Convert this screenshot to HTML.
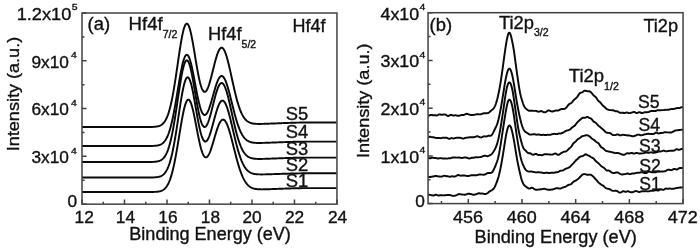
<!DOCTYPE html>
<html><head><meta charset="utf-8"><title>XPS spectra</title>
<style>html,body{margin:0;padding:0;background:#fff}svg{display:block}</style></head>
<body>
<svg width="700" height="249" viewBox="0 0 700 249" font-family="'Liberation Sans', sans-serif" fill="#111" stroke="#111" stroke-width="0.35">
<rect width="700" height="249" fill="#fff" stroke="none"/>
<defs><clipPath id="ca"><rect x="82.0" y="13.0" width="254.95" height="191.15"/></clipPath><clipPath id="cb"><rect x="428.05" y="12.7" width="255.00" height="190.90"/></clipPath></defs>
<g clip-path="url(#ca)" fill="none" stroke="#0a0a0a" stroke-width="1.95" stroke-linejoin="round">
<path d="M82.00 127.00L82.50 127.00L83.00 127.00L83.50 127.00L84.00 127.00L84.50 127.00L85.00 127.00L85.50 127.00L86.00 127.00L86.50 127.00L87.00 127.00L87.50 127.00L88.00 127.00L88.50 127.00L89.00 127.00L89.50 127.00L90.00 127.00L90.50 127.00L91.00 127.00L91.50 127.00L92.00 127.00L92.50 127.00L93.00 127.00L93.50 127.00L94.00 127.00L94.50 127.00L95.00 127.00L95.50 127.00L96.00 127.00L96.50 127.00L97.00 127.00L97.50 127.00L98.00 127.00L98.50 127.00L99.00 127.00L99.50 127.00L100.00 127.00L100.50 127.00L101.00 127.00L101.50 127.00L102.00 127.00L102.50 127.00L103.00 127.00L103.50 127.00L104.00 127.00L104.50 127.00L105.00 127.00L105.50 127.00L106.00 127.00L106.50 127.00L107.00 127.00L107.50 127.00L108.00 127.00L108.50 127.00L109.00 127.00L109.50 127.00L110.00 127.00L110.50 127.00L111.00 127.00L111.50 127.00L112.00 127.00L112.50 127.00L113.00 127.00L113.50 127.00L114.00 127.00L114.50 127.00L115.00 127.00L115.50 127.00L116.00 127.00L116.50 127.00L117.00 127.00L117.50 127.00L118.00 127.00L118.50 127.00L119.00 127.00L119.50 127.00L120.00 127.00L120.50 127.00L121.00 127.00L121.50 127.00L122.00 127.00L122.50 127.00L123.00 127.00L123.50 127.00L124.00 127.00L124.50 127.00L125.00 127.00L125.50 127.00L126.00 127.00L126.50 127.00L127.00 127.00L127.50 127.00L128.00 127.00L128.50 127.00L129.00 127.00L129.50 127.00L130.00 127.00L130.50 127.00L131.00 127.00L131.50 127.00L132.00 127.00L132.50 127.00L133.00 127.00L133.50 127.00L134.00 127.00L134.50 127.00L135.00 127.00L135.50 127.00L136.00 127.00L136.50 127.00L137.00 127.00L137.50 127.00L138.00 127.00L138.50 127.00L139.00 127.00L139.50 127.00L140.00 127.00L140.50 127.00L141.00 127.00L141.50 127.00L142.00 127.00L142.50 127.00L143.00 127.00L143.50 127.00L144.00 127.00L144.50 127.00L145.00 127.00L145.50 127.00L146.00 127.00L146.50 126.99L147.00 126.99L147.50 126.99L148.00 126.99L148.50 126.98L149.00 126.98L149.50 126.98L150.00 126.97L150.50 126.96L151.00 126.95L151.50 126.94L152.00 126.93L152.50 126.91L153.00 126.89L153.50 126.87L154.00 126.84L154.50 126.80L155.00 126.76L155.50 126.71L156.00 126.65L156.50 126.58L157.00 126.50L157.50 126.40L158.00 126.29L158.50 126.16L159.00 126.00L159.50 125.82L160.00 125.61L160.50 125.37L161.00 125.10L161.50 124.78L162.00 124.42L162.50 124.01L163.00 123.55L163.50 123.02L164.00 122.43L164.50 121.76L165.00 121.02L165.50 120.19L166.00 119.28L166.50 118.26L167.00 117.14L167.50 115.91L168.00 114.57L168.50 113.10L169.00 111.51L169.50 109.79L170.00 107.93L170.50 105.94L171.00 103.81L171.50 101.54L172.00 99.14L172.50 96.59L173.00 93.92L173.50 91.12L174.00 88.20L174.50 85.16L175.00 82.03L175.50 78.80L176.00 75.51L176.50 72.15L177.00 68.74L177.50 65.31L178.00 61.88L178.50 58.46L179.00 55.08L179.50 51.76L180.00 48.52L180.50 45.39L181.00 42.39L181.50 39.54L182.00 36.86L182.50 34.39L183.00 32.12L183.50 30.10L184.00 28.32L184.50 26.81L185.00 25.58L185.50 24.64L186.00 24.00L186.50 23.66L187.00 23.62L187.50 23.89L188.00 24.45L188.50 25.31L189.00 26.45L189.50 27.86L190.00 29.52L190.50 31.43L191.00 33.56L191.50 35.88L192.00 38.38L192.50 41.04L193.00 43.83L193.50 46.72L194.00 49.68L194.50 52.70L195.00 55.74L195.50 58.79L196.00 61.81L196.50 64.78L197.00 67.68L197.50 70.49L198.00 73.18L198.50 75.75L199.00 78.16L199.50 80.41L200.00 82.49L200.50 84.37L201.00 86.06L201.50 87.54L202.00 88.81L202.50 89.86L203.00 90.70L203.50 91.31L204.00 91.71L204.50 91.89L205.00 91.85L205.50 91.61L206.00 91.17L206.50 90.54L207.00 89.72L207.50 88.72L208.00 87.56L208.50 86.25L209.00 84.81L209.50 83.23L210.00 81.55L210.50 79.77L211.00 77.91L211.50 75.98L212.00 74.00L212.50 72.00L213.00 69.97L213.50 67.95L214.00 65.94L214.50 63.97L215.00 62.05L215.50 60.19L216.00 58.42L216.50 56.74L217.00 55.16L217.50 53.72L218.00 52.40L218.50 51.23L219.00 50.21L219.50 49.36L220.00 48.68L220.50 48.17L221.00 47.85L221.50 47.71L222.00 47.75L222.50 47.98L223.00 48.40L223.50 48.99L224.00 49.77L224.50 50.71L225.00 51.82L225.50 53.09L226.00 54.51L226.50 56.06L227.00 57.75L227.50 59.55L228.00 61.46L228.50 63.46L229.00 65.54L229.50 67.68L230.00 69.89L230.50 72.13L231.00 74.40L231.50 76.69L232.00 78.99L232.50 81.28L233.00 83.56L233.50 85.80L234.00 88.02L234.50 90.18L235.00 92.30L235.50 94.36L236.00 96.35L236.50 98.28L237.00 100.13L237.50 101.90L238.00 103.59L238.50 105.20L239.00 106.73L239.50 108.17L240.00 109.54L240.50 110.81L241.00 112.01L241.50 113.13L242.00 114.17L242.50 115.13L243.00 116.02L243.50 116.84L244.00 117.60L244.50 118.29L245.00 118.92L245.50 119.50L246.00 120.02L246.50 120.50L247.00 120.92L247.50 121.31L248.00 121.65L248.50 121.96L249.00 122.23L249.50 122.48L250.00 122.69L250.50 122.88L251.00 123.05L251.50 123.19L252.00 123.32L252.50 123.43L253.00 123.52L253.50 123.60L254.00 123.67L254.50 123.73L255.00 123.77L255.50 123.81L256.00 123.85L256.50 123.87L257.00 123.89L257.50 123.91L258.00 123.92L258.50 123.92L259.00 123.93L259.50 123.93L260.00 123.92L260.50 123.92L261.00 123.91L261.50 123.90L262.00 123.89L262.50 123.88L263.00 123.87L263.50 123.86L264.00 123.84L264.50 123.83L265.00 123.81L265.50 123.80L266.00 123.78L266.50 123.76L267.00 123.74L267.50 123.73L268.00 123.71L268.50 123.69L269.00 123.67L269.50 123.65L270.00 123.63L270.50 123.61L271.00 123.59L271.50 123.57L272.00 123.55L272.50 123.53L273.00 123.51L273.50 123.49L274.00 123.47L274.50 123.45L275.00 123.43L275.50 123.41L276.00 123.39L276.50 123.37L277.00 123.35L277.50 123.33L278.00 123.31L278.50 123.29L279.00 123.27L279.50 123.25L280.00 123.23L280.50 123.21L281.00 123.19L281.50 123.17L282.00 123.15L282.50 123.13L283.00 123.11L283.50 123.09L284.00 123.07L284.50 123.05L285.00 123.03L285.50 123.01L286.00 122.99L286.50 122.97L287.00 122.95L287.50 122.93L288.00 122.92L288.50 122.90L289.00 122.88L289.50 122.86L290.00 122.85L290.50 122.83L291.00 122.81L291.50 122.80L292.00 122.78L292.50 122.77L293.00 122.75L293.50 122.74L294.00 122.72L294.50 122.71L295.00 122.69L295.50 122.68L296.00 122.67L296.50 122.65L297.00 122.64L297.50 122.63L298.00 122.62L298.50 122.61L299.00 122.60L299.50 122.59L300.00 122.58L300.50 122.57L301.00 122.56L301.50 122.55L302.00 122.54L302.50 122.54L303.00 122.53L303.50 122.53L304.00 122.52L304.50 122.52L305.00 122.51L305.50 122.51L306.00 122.51L306.50 122.50L307.00 122.50L307.50 122.50L308.00 122.50L308.50 122.50L309.00 122.50L309.50 122.50L310.00 122.50L310.50 122.50L311.00 122.50L311.50 122.50L312.00 122.50L312.50 122.50L313.00 122.50L313.50 122.50L314.00 122.50L314.50 122.50L315.00 122.50L315.50 122.50L316.00 122.50L316.50 122.50L317.00 122.50L317.50 122.50L318.00 122.50L318.50 122.50L319.00 122.50L319.50 122.50L320.00 122.50L320.50 122.50L321.00 122.50L321.50 122.50L322.00 122.50L322.50 122.50L323.00 122.50L323.50 122.50L324.00 122.50L324.50 122.50L325.00 122.50L325.50 122.50L326.00 122.50L326.50 122.50L327.00 122.50L327.50 122.50L328.00 122.50L328.50 122.50L329.00 122.50L329.50 122.50L330.00 122.50L330.50 122.50L331.00 122.50L331.50 122.50L332.00 122.50L332.50 122.50L333.00 122.50L333.50 122.50L334.00 122.50L334.50 122.50L335.00 122.50L335.50 122.50L336.00 122.50L336.50 122.50"/>
<path d="M82.00 146.00L82.50 146.00L83.00 146.00L83.50 146.00L84.00 146.00L84.50 146.00L85.00 146.00L85.50 146.00L86.00 146.00L86.50 146.00L87.00 146.00L87.50 146.00L88.00 146.00L88.50 146.00L89.00 146.00L89.50 146.00L90.00 146.00L90.50 146.00L91.00 146.00L91.50 146.00L92.00 146.00L92.50 146.00L93.00 146.00L93.50 146.00L94.00 146.00L94.50 146.00L95.00 146.00L95.50 146.00L96.00 146.00L96.50 146.00L97.00 146.00L97.50 146.00L98.00 146.00L98.50 146.00L99.00 146.00L99.50 146.00L100.00 146.00L100.50 146.00L101.00 146.00L101.50 146.00L102.00 146.00L102.50 146.00L103.00 146.00L103.50 146.00L104.00 146.00L104.50 146.00L105.00 146.00L105.50 146.00L106.00 146.00L106.50 146.00L107.00 146.00L107.50 146.00L108.00 146.00L108.50 146.00L109.00 146.00L109.50 146.00L110.00 146.00L110.50 146.00L111.00 146.00L111.50 146.00L112.00 146.00L112.50 146.00L113.00 146.00L113.50 146.00L114.00 146.00L114.50 146.00L115.00 146.00L115.50 146.00L116.00 146.00L116.50 146.00L117.00 146.00L117.50 146.00L118.00 146.00L118.50 146.00L119.00 146.00L119.50 146.00L120.00 146.00L120.50 146.00L121.00 146.00L121.50 146.00L122.00 146.00L122.50 146.00L123.00 146.00L123.50 146.00L124.00 146.00L124.50 146.00L125.00 146.00L125.50 146.00L126.00 146.00L126.50 146.00L127.00 146.00L127.50 146.00L128.00 146.00L128.50 146.00L129.00 146.00L129.50 146.00L130.00 146.00L130.50 146.00L131.00 146.00L131.50 146.00L132.00 146.00L132.50 146.00L133.00 146.00L133.50 146.00L134.00 146.00L134.50 146.00L135.00 146.00L135.50 146.00L136.00 146.00L136.50 146.00L137.00 146.00L137.50 146.00L138.00 146.00L138.50 146.00L139.00 146.00L139.50 146.00L140.00 146.00L140.50 146.00L141.00 146.00L141.50 146.00L142.00 146.00L142.50 146.00L143.00 146.00L143.50 146.00L144.00 146.00L144.50 146.00L145.00 146.00L145.50 146.00L146.00 146.00L146.50 145.99L147.00 145.99L147.50 145.99L148.00 145.99L148.50 145.99L149.00 145.98L149.50 145.98L150.00 145.97L150.50 145.97L151.00 145.96L151.50 145.95L152.00 145.94L152.50 145.92L153.00 145.90L153.50 145.88L154.00 145.86L154.50 145.83L155.00 145.79L155.50 145.75L156.00 145.69L156.50 145.63L157.00 145.56L157.50 145.47L158.00 145.37L158.50 145.26L159.00 145.12L159.50 144.96L160.00 144.78L160.50 144.57L161.00 144.32L161.50 144.04L162.00 143.73L162.50 143.37L163.00 142.96L163.50 142.49L164.00 141.97L164.50 141.38L165.00 140.73L165.50 140.00L166.00 139.19L166.50 138.30L167.00 137.31L167.50 136.23L168.00 135.04L168.50 133.75L169.00 132.35L169.50 130.83L170.00 129.19L170.50 127.44L171.00 125.56L171.50 123.56L172.00 121.44L172.50 119.20L173.00 116.84L173.50 114.37L174.00 111.79L174.50 109.12L175.00 106.35L175.50 103.51L176.00 100.60L176.50 97.64L177.00 94.64L177.50 91.62L178.00 88.59L178.50 85.57L179.00 82.59L179.50 79.66L180.00 76.81L180.50 74.04L181.00 71.40L181.50 68.88L182.00 66.52L182.50 64.33L183.00 62.34L183.50 60.55L184.00 58.98L184.50 57.65L185.00 56.56L185.50 55.73L186.00 55.16L186.50 54.85L187.00 54.82L187.50 55.05L188.00 55.54L188.50 56.29L189.00 57.29L189.50 58.53L190.00 60.00L190.50 61.68L191.00 63.55L191.50 65.60L192.00 67.80L192.50 70.14L193.00 72.59L193.50 75.14L194.00 77.75L194.50 80.41L195.00 83.09L195.50 85.77L196.00 88.44L196.50 91.06L197.00 93.61L197.50 96.09L198.00 98.46L198.50 100.73L199.00 102.86L199.50 104.84L200.00 106.67L200.50 108.34L201.00 109.83L201.50 111.14L202.00 112.26L202.50 113.19L203.00 113.93L203.50 114.47L204.00 114.83L204.50 114.99L205.00 114.96L205.50 114.75L206.00 114.37L206.50 113.81L207.00 113.09L207.50 112.21L208.00 111.20L208.50 110.04L209.00 108.77L209.50 107.38L210.00 105.90L210.50 104.33L211.00 102.69L211.50 100.99L212.00 99.25L212.50 97.48L213.00 95.69L213.50 93.91L214.00 92.14L214.50 90.39L215.00 88.70L215.50 87.06L216.00 85.49L216.50 84.00L217.00 82.61L217.50 81.33L218.00 80.17L218.50 79.13L219.00 78.23L219.50 77.48L220.00 76.87L220.50 76.42L221.00 76.13L221.50 76.01L222.00 76.04L222.50 76.24L223.00 76.61L223.50 77.13L224.00 77.81L224.50 78.64L225.00 79.62L225.50 80.73L226.00 81.98L226.50 83.35L227.00 84.84L227.50 86.42L228.00 88.10L228.50 89.86L229.00 91.69L229.50 93.58L230.00 95.52L230.50 97.50L231.00 99.50L231.50 101.52L232.00 103.54L232.50 105.55L233.00 107.55L233.50 109.53L234.00 111.48L234.50 113.39L235.00 115.25L235.50 117.06L236.00 118.81L236.50 120.50L237.00 122.12L237.50 123.68L238.00 125.17L238.50 126.58L239.00 127.92L239.50 129.19L240.00 130.38L240.50 131.50L241.00 132.55L241.50 133.53L242.00 134.44L242.50 135.28L243.00 136.07L243.50 136.78L244.00 137.44L244.50 138.05L245.00 138.60L245.50 139.11L246.00 139.56L246.50 139.98L247.00 140.35L247.50 140.69L248.00 140.99L248.50 141.25L249.00 141.49L249.50 141.70L250.00 141.89L250.50 142.06L251.00 142.20L251.50 142.32L252.00 142.43L252.50 142.53L253.00 142.61L253.50 142.68L254.00 142.74L254.50 142.79L255.00 142.83L255.50 142.86L256.00 142.89L256.50 142.91L257.00 142.92L257.50 142.93L258.00 142.94L258.50 142.95L259.00 142.95L259.50 142.95L260.00 142.94L260.50 142.94L261.00 142.93L261.50 142.92L262.00 142.91L262.50 142.90L263.00 142.89L263.50 142.88L264.00 142.86L264.50 142.85L265.00 142.83L265.50 142.82L266.00 142.80L266.50 142.79L267.00 142.77L267.50 142.75L268.00 142.74L268.50 142.72L269.00 142.70L269.50 142.68L270.00 142.67L270.50 142.65L271.00 142.63L271.50 142.61L272.00 142.59L272.50 142.57L273.00 142.55L273.50 142.53L274.00 142.52L274.50 142.50L275.00 142.48L275.50 142.46L276.00 142.44L276.50 142.42L277.00 142.40L277.50 142.38L278.00 142.36L278.50 142.34L279.00 142.32L279.50 142.30L280.00 142.28L280.50 142.27L281.00 142.25L281.50 142.23L282.00 142.21L282.50 142.19L283.00 142.17L283.50 142.15L284.00 142.13L284.50 142.12L285.00 142.10L285.50 142.08L286.00 142.06L286.50 142.04L287.00 142.03L287.50 142.01L288.00 141.99L288.50 141.98L289.00 141.96L289.50 141.94L290.00 141.93L290.50 141.91L291.00 141.89L291.50 141.88L292.00 141.86L292.50 141.85L293.00 141.84L293.50 141.82L294.00 141.81L294.50 141.79L295.00 141.78L295.50 141.77L296.00 141.76L296.50 141.74L297.00 141.73L297.50 141.72L298.00 141.71L298.50 141.70L299.00 141.69L299.50 141.68L300.00 141.67L300.50 141.66L301.00 141.66L301.50 141.65L302.00 141.64L302.50 141.64L303.00 141.63L303.50 141.62L304.00 141.62L304.50 141.61L305.00 141.61L305.50 141.61L306.00 141.60L306.50 141.60L307.00 141.60L307.50 141.60L308.00 141.60L308.50 141.60L309.00 141.60L309.50 141.60L310.00 141.60L310.50 141.60L311.00 141.60L311.50 141.60L312.00 141.60L312.50 141.60L313.00 141.60L313.50 141.60L314.00 141.60L314.50 141.60L315.00 141.60L315.50 141.60L316.00 141.60L316.50 141.60L317.00 141.60L317.50 141.60L318.00 141.60L318.50 141.60L319.00 141.60L319.50 141.60L320.00 141.60L320.50 141.60L321.00 141.60L321.50 141.60L322.00 141.60L322.50 141.60L323.00 141.60L323.50 141.60L324.00 141.60L324.50 141.60L325.00 141.60L325.50 141.60L326.00 141.60L326.50 141.60L327.00 141.60L327.50 141.60L328.00 141.60L328.50 141.60L329.00 141.60L329.50 141.60L330.00 141.60L330.50 141.60L331.00 141.60L331.50 141.60L332.00 141.60L332.50 141.60L333.00 141.60L333.50 141.60L334.00 141.60L334.50 141.60L335.00 141.60L335.50 141.60L336.00 141.60L336.50 141.60"/>
<path d="M82.00 162.00L82.50 162.00L83.00 162.00L83.50 162.00L84.00 162.00L84.50 162.00L85.00 162.00L85.50 162.00L86.00 162.00L86.50 162.00L87.00 162.00L87.50 162.00L88.00 162.00L88.50 162.00L89.00 162.00L89.50 162.00L90.00 162.00L90.50 162.00L91.00 162.00L91.50 162.00L92.00 162.00L92.50 162.00L93.00 162.00L93.50 162.00L94.00 162.00L94.50 162.00L95.00 162.00L95.50 162.00L96.00 162.00L96.50 162.00L97.00 162.00L97.50 162.00L98.00 162.00L98.50 162.00L99.00 162.00L99.50 162.00L100.00 162.00L100.50 162.00L101.00 162.00L101.50 162.00L102.00 162.00L102.50 162.00L103.00 162.00L103.50 162.00L104.00 162.00L104.50 162.00L105.00 162.00L105.50 162.00L106.00 162.00L106.50 162.00L107.00 162.00L107.50 162.00L108.00 162.00L108.50 162.00L109.00 162.00L109.50 162.00L110.00 162.00L110.50 162.00L111.00 162.00L111.50 162.00L112.00 162.00L112.50 162.00L113.00 162.00L113.50 162.00L114.00 162.00L114.50 162.00L115.00 162.00L115.50 162.00L116.00 162.00L116.50 162.00L117.00 162.00L117.50 162.00L118.00 162.00L118.50 162.00L119.00 162.00L119.50 162.00L120.00 162.00L120.50 162.00L121.00 162.00L121.50 162.00L122.00 162.00L122.50 162.00L123.00 162.00L123.50 162.00L124.00 162.00L124.50 162.00L125.00 162.00L125.50 162.00L126.00 162.00L126.50 162.00L127.00 162.00L127.50 162.00L128.00 162.00L128.50 162.00L129.00 162.00L129.50 162.00L130.00 162.00L130.50 162.00L131.00 162.00L131.50 162.00L132.00 162.00L132.50 162.00L133.00 162.00L133.50 162.00L134.00 162.00L134.50 162.00L135.00 162.00L135.50 162.00L136.00 162.00L136.50 162.00L137.00 162.00L137.50 162.00L138.00 162.00L138.50 162.00L139.00 162.00L139.50 162.00L140.00 162.00L140.50 162.00L141.00 162.00L141.50 162.00L142.00 162.00L142.50 162.00L143.00 162.00L143.50 162.00L144.00 162.00L144.50 162.00L145.00 162.00L145.50 162.00L146.00 162.00L146.50 161.99L147.00 161.99L147.50 161.99L148.00 161.99L148.50 161.98L149.00 161.98L149.50 161.98L150.00 161.97L150.50 161.96L151.00 161.95L151.50 161.94L152.00 161.93L152.50 161.91L153.00 161.89L153.50 161.87L154.00 161.84L154.50 161.81L155.00 161.77L155.50 161.72L156.00 161.66L156.50 161.59L157.00 161.51L157.50 161.41L158.00 161.30L158.50 161.17L159.00 161.02L159.50 160.84L160.00 160.64L160.50 160.40L161.00 160.13L161.50 159.82L162.00 159.46L162.50 159.06L163.00 158.60L163.50 158.09L164.00 157.50L164.50 156.85L165.00 156.12L165.50 155.31L166.00 154.41L166.50 153.41L167.00 152.31L167.50 151.10L168.00 149.78L168.50 148.33L169.00 146.77L169.50 145.08L170.00 143.25L170.50 141.29L171.00 139.20L171.50 136.97L172.00 134.60L172.50 132.10L173.00 129.47L173.50 126.71L174.00 123.84L174.50 120.86L175.00 117.78L175.50 114.61L176.00 111.36L176.50 108.06L177.00 104.71L177.50 101.34L178.00 97.96L178.50 94.60L179.00 91.28L179.50 88.01L180.00 84.82L180.50 81.74L181.00 78.79L181.50 75.99L182.00 73.36L182.50 70.92L183.00 68.69L183.50 66.70L184.00 64.95L184.50 63.47L185.00 62.26L185.50 61.33L186.00 60.70L186.50 60.36L187.00 60.32L187.50 60.58L188.00 61.13L188.50 61.97L189.00 63.09L189.50 64.47L190.00 66.10L190.50 67.97L191.00 70.06L191.50 72.34L192.00 74.79L192.50 77.40L193.00 80.13L193.50 82.96L194.00 85.87L194.50 88.83L195.00 91.81L195.50 94.80L196.00 97.75L196.50 100.66L197.00 103.50L197.50 106.25L198.00 108.88L198.50 111.38L199.00 113.74L199.50 115.94L200.00 117.96L200.50 119.79L201.00 121.43L201.50 122.86L202.00 124.09L202.50 125.10L203.00 125.90L203.50 126.48L204.00 126.84L204.50 127.00L205.00 126.94L205.50 126.67L206.00 126.21L206.50 125.56L207.00 124.73L207.50 123.73L208.00 122.56L208.50 121.25L209.00 119.80L209.50 118.23L210.00 116.55L210.50 114.78L211.00 112.93L211.50 111.01L212.00 109.05L212.50 107.06L213.00 105.05L213.50 103.04L214.00 101.05L214.50 99.10L215.00 97.20L215.50 95.36L216.00 93.60L216.50 91.94L217.00 90.38L217.50 88.95L218.00 87.65L218.50 86.49L219.00 85.48L219.50 84.64L220.00 83.97L220.50 83.47L221.00 83.15L221.50 83.01L222.00 83.05L222.50 83.28L223.00 83.69L223.50 84.28L224.00 85.04L224.50 85.97L225.00 87.07L225.50 88.33L226.00 89.73L226.50 91.27L227.00 92.93L227.50 94.71L228.00 96.60L228.50 98.58L229.00 100.64L229.50 102.76L230.00 104.95L230.50 107.17L231.00 109.42L231.50 111.69L232.00 113.97L232.50 116.25L233.00 118.50L233.50 120.74L234.00 122.93L234.50 125.09L235.00 127.20L235.50 129.24L236.00 131.23L236.50 133.15L237.00 134.99L237.50 136.76L238.00 138.45L238.50 140.06L239.00 141.59L239.50 143.03L240.00 144.39L240.50 145.67L241.00 146.87L241.50 147.99L242.00 149.04L242.50 150.01L243.00 150.90L243.50 151.73L244.00 152.49L244.50 153.19L245.00 153.83L245.50 154.41L246.00 154.94L246.50 155.42L247.00 155.85L247.50 156.24L248.00 156.59L248.50 156.90L249.00 157.18L249.50 157.43L250.00 157.65L250.50 157.84L251.00 158.01L251.50 158.16L252.00 158.29L252.50 158.41L253.00 158.50L253.50 158.59L254.00 158.66L254.50 158.72L255.00 158.77L255.50 158.81L256.00 158.84L256.50 158.87L257.00 158.89L257.50 158.91L258.00 158.92L258.50 158.93L259.00 158.93L259.50 158.93L260.00 158.93L260.50 158.93L261.00 158.92L261.50 158.92L262.00 158.91L262.50 158.90L263.00 158.89L263.50 158.87L264.00 158.86L264.50 158.85L265.00 158.83L265.50 158.82L266.00 158.80L266.50 158.79L267.00 158.77L267.50 158.75L268.00 158.74L268.50 158.72L269.00 158.70L269.50 158.68L270.00 158.67L270.50 158.65L271.00 158.63L271.50 158.61L272.00 158.59L272.50 158.57L273.00 158.55L273.50 158.53L274.00 158.52L274.50 158.50L275.00 158.48L275.50 158.46L276.00 158.44L276.50 158.42L277.00 158.40L277.50 158.38L278.00 158.36L278.50 158.34L279.00 158.32L279.50 158.30L280.00 158.28L280.50 158.27L281.00 158.25L281.50 158.23L282.00 158.21L282.50 158.19L283.00 158.17L283.50 158.15L284.00 158.13L284.50 158.12L285.00 158.10L285.50 158.08L286.00 158.06L286.50 158.04L287.00 158.03L287.50 158.01L288.00 157.99L288.50 157.98L289.00 157.96L289.50 157.94L290.00 157.93L290.50 157.91L291.00 157.89L291.50 157.88L292.00 157.86L292.50 157.85L293.00 157.84L293.50 157.82L294.00 157.81L294.50 157.79L295.00 157.78L295.50 157.77L296.00 157.76L296.50 157.74L297.00 157.73L297.50 157.72L298.00 157.71L298.50 157.70L299.00 157.69L299.50 157.68L300.00 157.67L300.50 157.66L301.00 157.66L301.50 157.65L302.00 157.64L302.50 157.64L303.00 157.63L303.50 157.62L304.00 157.62L304.50 157.61L305.00 157.61L305.50 157.61L306.00 157.60L306.50 157.60L307.00 157.60L307.50 157.60L308.00 157.60L308.50 157.60L309.00 157.60L309.50 157.60L310.00 157.60L310.50 157.60L311.00 157.60L311.50 157.60L312.00 157.60L312.50 157.60L313.00 157.60L313.50 157.60L314.00 157.60L314.50 157.60L315.00 157.60L315.50 157.60L316.00 157.60L316.50 157.60L317.00 157.60L317.50 157.60L318.00 157.60L318.50 157.60L319.00 157.60L319.50 157.60L320.00 157.60L320.50 157.60L321.00 157.60L321.50 157.60L322.00 157.60L322.50 157.60L323.00 157.60L323.50 157.60L324.00 157.60L324.50 157.60L325.00 157.60L325.50 157.60L326.00 157.60L326.50 157.60L327.00 157.60L327.50 157.60L328.00 157.60L328.50 157.60L329.00 157.60L329.50 157.60L330.00 157.60L330.50 157.60L331.00 157.60L331.50 157.60L332.00 157.60L332.50 157.60L333.00 157.60L333.50 157.60L334.00 157.60L334.50 157.60L335.00 157.60L335.50 157.60L336.00 157.60L336.50 157.60"/>
<path d="M82.00 177.50L82.50 177.50L83.00 177.50L83.50 177.50L84.00 177.50L84.50 177.50L85.00 177.50L85.50 177.50L86.00 177.50L86.50 177.50L87.00 177.50L87.50 177.50L88.00 177.50L88.50 177.50L89.00 177.50L89.50 177.50L90.00 177.50L90.50 177.50L91.00 177.50L91.50 177.50L92.00 177.50L92.50 177.50L93.00 177.50L93.50 177.50L94.00 177.50L94.50 177.50L95.00 177.50L95.50 177.50L96.00 177.50L96.50 177.50L97.00 177.50L97.50 177.50L98.00 177.50L98.50 177.50L99.00 177.50L99.50 177.50L100.00 177.50L100.50 177.50L101.00 177.50L101.50 177.50L102.00 177.50L102.50 177.50L103.00 177.50L103.50 177.50L104.00 177.50L104.50 177.50L105.00 177.50L105.50 177.50L106.00 177.50L106.50 177.50L107.00 177.50L107.50 177.50L108.00 177.50L108.50 177.50L109.00 177.50L109.50 177.50L110.00 177.50L110.50 177.50L111.00 177.50L111.50 177.50L112.00 177.50L112.50 177.50L113.00 177.50L113.50 177.50L114.00 177.50L114.50 177.50L115.00 177.50L115.50 177.50L116.00 177.50L116.50 177.50L117.00 177.50L117.50 177.50L118.00 177.50L118.50 177.50L119.00 177.50L119.50 177.50L120.00 177.50L120.50 177.50L121.00 177.50L121.50 177.50L122.00 177.50L122.50 177.50L123.00 177.50L123.50 177.50L124.00 177.50L124.50 177.50L125.00 177.50L125.50 177.50L126.00 177.50L126.50 177.50L127.00 177.50L127.50 177.50L128.00 177.50L128.50 177.50L129.00 177.50L129.50 177.50L130.00 177.50L130.50 177.50L131.00 177.50L131.50 177.50L132.00 177.50L132.50 177.50L133.00 177.50L133.50 177.50L134.00 177.50L134.50 177.50L135.00 177.50L135.50 177.50L136.00 177.50L136.50 177.50L137.00 177.50L137.50 177.50L138.00 177.50L138.50 177.50L139.00 177.50L139.50 177.50L140.00 177.50L140.50 177.50L141.00 177.50L141.50 177.50L142.00 177.50L142.50 177.50L143.00 177.50L143.50 177.50L144.00 177.50L144.50 177.50L145.00 177.50L145.50 177.50L146.00 177.50L146.50 177.50L147.00 177.50L147.50 177.49L148.00 177.49L148.50 177.49L149.00 177.49L149.50 177.48L150.00 177.48L150.50 177.47L151.00 177.47L151.50 177.46L152.00 177.45L152.50 177.44L153.00 177.42L153.50 177.41L154.00 177.39L154.50 177.36L155.00 177.33L155.50 177.30L156.00 177.25L156.50 177.20L157.00 177.14L157.50 177.07L158.00 176.98L158.50 176.88L159.00 176.76L159.50 176.63L160.00 176.47L160.50 176.28L161.00 176.07L161.50 175.82L162.00 175.54L162.50 175.22L163.00 174.85L163.50 174.43L164.00 173.96L164.50 173.43L165.00 172.83L165.50 172.15L166.00 171.40L166.50 170.57L167.00 169.64L167.50 168.62L168.00 167.50L168.50 166.26L169.00 164.91L169.50 163.45L170.00 161.86L170.50 160.14L171.00 158.29L171.50 156.31L172.00 154.19L172.50 151.94L173.00 149.56L173.50 147.05L174.00 144.41L174.50 141.65L175.00 138.78L175.50 135.80L176.00 132.73L176.50 129.58L177.00 126.36L177.50 123.09L178.00 119.78L178.50 116.45L179.00 113.13L179.50 109.83L180.00 106.58L180.50 103.39L181.00 100.30L181.50 97.31L182.00 94.46L182.50 91.76L183.00 89.24L183.50 86.92L184.00 84.81L184.50 82.94L185.00 81.31L185.50 79.95L186.00 78.86L186.50 78.05L187.00 77.54L187.50 77.31L188.00 77.38L188.50 77.73L189.00 78.37L189.50 79.29L190.00 80.48L190.50 81.92L191.00 83.60L191.50 85.50L192.00 87.61L192.50 89.90L193.00 92.34L193.50 94.92L194.00 97.62L194.50 100.40L195.00 103.25L195.50 106.13L196.00 109.02L196.50 111.90L197.00 114.75L197.50 117.53L198.00 120.24L198.50 122.85L199.00 125.33L199.50 127.69L200.00 129.89L200.50 131.93L201.00 133.79L201.50 135.47L202.00 136.95L202.50 138.23L203.00 139.31L203.50 140.18L204.00 140.84L204.50 141.30L205.00 141.55L205.50 141.59L206.00 141.44L206.50 141.10L207.00 140.58L207.50 139.87L208.00 139.01L208.50 137.99L209.00 136.82L209.50 135.52L210.00 134.10L210.50 132.58L211.00 130.96L211.50 129.27L212.00 127.51L212.50 125.70L213.00 123.86L213.50 122.00L214.00 120.13L214.50 118.28L215.00 116.45L215.50 114.66L216.00 112.93L216.50 111.27L217.00 109.68L217.50 108.20L218.00 106.81L218.50 105.55L219.00 104.41L219.50 103.40L220.00 102.54L220.50 101.83L221.00 101.28L221.50 100.89L222.00 100.66L222.50 100.60L223.00 100.71L223.50 100.98L224.00 101.42L224.50 102.02L225.00 102.78L225.50 103.70L226.00 104.76L226.50 105.97L227.00 107.30L227.50 108.77L228.00 110.34L228.50 112.03L229.00 113.81L229.50 115.67L230.00 117.60L230.50 119.60L231.00 121.65L231.50 123.74L232.00 125.86L232.50 128.00L233.00 130.15L233.50 132.29L234.00 134.42L234.50 136.54L235.00 138.62L235.50 140.67L236.00 142.68L236.50 144.63L237.00 146.53L237.50 148.37L238.00 150.15L238.50 151.86L239.00 153.50L239.50 155.06L240.00 156.55L240.50 157.97L241.00 159.31L241.50 160.58L242.00 161.77L242.50 162.89L243.00 163.93L243.50 164.91L244.00 165.81L244.50 166.66L245.00 167.43L245.50 168.15L246.00 168.81L246.50 169.42L247.00 169.97L247.50 170.48L248.00 170.94L248.50 171.35L249.00 171.73L249.50 172.06L250.00 172.37L250.50 172.64L251.00 172.88L251.50 173.10L252.00 173.29L252.50 173.46L253.00 173.61L253.50 173.74L254.00 173.85L254.50 173.95L255.00 174.03L255.50 174.11L256.00 174.17L256.50 174.22L257.00 174.26L257.50 174.30L258.00 174.33L258.50 174.36L259.00 174.37L259.50 174.39L260.00 174.40L260.50 174.41L261.00 174.41L261.50 174.41L262.00 174.41L262.50 174.41L263.00 174.40L263.50 174.39L264.00 174.39L264.50 174.38L265.00 174.37L265.50 174.36L266.00 174.34L266.50 174.33L267.00 174.32L267.50 174.30L268.00 174.29L268.50 174.28L269.00 174.26L269.50 174.25L270.00 174.23L270.50 174.21L271.00 174.20L271.50 174.18L272.00 174.17L272.50 174.15L273.00 174.13L273.50 174.12L274.00 174.10L274.50 174.08L275.00 174.07L275.50 174.05L276.00 174.03L276.50 174.02L277.00 174.00L277.50 173.98L278.00 173.97L278.50 173.95L279.00 173.93L279.50 173.92L280.00 173.90L280.50 173.88L281.00 173.87L281.50 173.85L282.00 173.83L282.50 173.82L283.00 173.80L283.50 173.78L284.00 173.77L284.50 173.75L285.00 173.74L285.50 173.72L286.00 173.70L286.50 173.69L287.00 173.67L287.50 173.66L288.00 173.64L288.50 173.63L289.00 173.61L289.50 173.60L290.00 173.59L290.50 173.57L291.00 173.56L291.50 173.54L292.00 173.53L292.50 173.52L293.00 173.51L293.50 173.49L294.00 173.48L294.50 173.47L295.00 173.46L295.50 173.45L296.00 173.44L296.50 173.43L297.00 173.42L297.50 173.41L298.00 173.40L298.50 173.39L299.00 173.38L299.50 173.37L300.00 173.36L300.50 173.36L301.00 173.35L301.50 173.34L302.00 173.34L302.50 173.33L303.00 173.33L303.50 173.32L304.00 173.32L304.50 173.31L305.00 173.31L305.50 173.31L306.00 173.30L306.50 173.30L307.00 173.30L307.50 173.30L308.00 173.30L308.50 173.30L309.00 173.30L309.50 173.30L310.00 173.30L310.50 173.30L311.00 173.30L311.50 173.30L312.00 173.30L312.50 173.30L313.00 173.30L313.50 173.30L314.00 173.30L314.50 173.30L315.00 173.30L315.50 173.30L316.00 173.30L316.50 173.30L317.00 173.30L317.50 173.30L318.00 173.30L318.50 173.30L319.00 173.30L319.50 173.30L320.00 173.30L320.50 173.30L321.00 173.30L321.50 173.30L322.00 173.30L322.50 173.30L323.00 173.30L323.50 173.30L324.00 173.30L324.50 173.30L325.00 173.30L325.50 173.30L326.00 173.30L326.50 173.30L327.00 173.30L327.50 173.30L328.00 173.30L328.50 173.30L329.00 173.30L329.50 173.30L330.00 173.30L330.50 173.30L331.00 173.30L331.50 173.30L332.00 173.30L332.50 173.30L333.00 173.30L333.50 173.30L334.00 173.30L334.50 173.30L335.00 173.30L335.50 173.30L336.00 173.30L336.50 173.30"/>
<path d="M82.00 192.00L82.50 192.00L83.00 192.00L83.50 192.00L84.00 192.00L84.50 192.00L85.00 192.00L85.50 192.00L86.00 192.00L86.50 192.00L87.00 192.00L87.50 192.00L88.00 192.00L88.50 192.00L89.00 192.00L89.50 192.00L90.00 192.00L90.50 192.00L91.00 192.00L91.50 192.00L92.00 192.00L92.50 192.00L93.00 192.00L93.50 192.00L94.00 192.00L94.50 192.00L95.00 192.00L95.50 192.00L96.00 192.00L96.50 192.00L97.00 192.00L97.50 192.00L98.00 192.00L98.50 192.00L99.00 192.00L99.50 192.00L100.00 192.00L100.50 192.00L101.00 192.00L101.50 192.00L102.00 192.00L102.50 192.00L103.00 192.00L103.50 192.00L104.00 192.00L104.50 192.00L105.00 192.00L105.50 192.00L106.00 192.00L106.50 192.00L107.00 192.00L107.50 192.00L108.00 192.00L108.50 192.00L109.00 192.00L109.50 192.00L110.00 192.00L110.50 192.00L111.00 192.00L111.50 192.00L112.00 192.00L112.50 192.00L113.00 192.00L113.50 192.00L114.00 192.00L114.50 192.00L115.00 192.00L115.50 192.00L116.00 192.00L116.50 192.00L117.00 192.00L117.50 192.00L118.00 192.00L118.50 192.00L119.00 192.00L119.50 192.00L120.00 192.00L120.50 192.00L121.00 192.00L121.50 192.00L122.00 192.00L122.50 192.00L123.00 192.00L123.50 192.00L124.00 192.00L124.50 192.00L125.00 192.00L125.50 192.00L126.00 192.00L126.50 192.00L127.00 192.00L127.50 192.00L128.00 192.00L128.50 192.00L129.00 192.00L129.50 192.00L130.00 192.00L130.50 192.00L131.00 192.00L131.50 192.00L132.00 192.00L132.50 192.00L133.00 192.00L133.50 192.00L134.00 192.00L134.50 192.00L135.00 192.00L135.50 192.00L136.00 192.00L136.50 192.00L137.00 192.00L137.50 192.00L138.00 192.00L138.50 192.00L139.00 192.00L139.50 192.00L140.00 192.00L140.50 192.00L141.00 192.00L141.50 192.00L142.00 192.00L142.50 192.00L143.00 192.00L143.50 192.00L144.00 192.00L144.50 192.00L145.00 192.00L145.50 192.00L146.00 192.00L146.50 192.00L147.00 192.00L147.50 192.00L148.00 191.99L148.50 191.99L149.00 191.99L149.50 191.99L150.00 191.99L150.50 191.98L151.00 191.98L151.50 191.97L152.00 191.97L152.50 191.96L153.00 191.95L153.50 191.94L154.00 191.92L154.50 191.90L155.00 191.88L155.50 191.86L156.00 191.83L156.50 191.79L157.00 191.74L157.50 191.69L158.00 191.63L158.50 191.55L159.00 191.47L159.50 191.37L160.00 191.25L160.50 191.11L161.00 190.95L161.50 190.76L162.00 190.55L162.50 190.30L163.00 190.02L163.50 189.70L164.00 189.33L164.50 188.92L165.00 188.45L165.50 187.92L166.00 187.33L166.50 186.67L167.00 185.93L167.50 185.11L168.00 184.20L168.50 183.20L169.00 182.11L169.50 180.91L170.00 179.60L170.50 178.18L171.00 176.64L171.50 174.99L172.00 173.21L172.50 171.31L173.00 169.28L173.50 167.14L174.00 164.87L174.50 162.48L175.00 159.98L175.50 157.37L176.00 154.67L176.50 151.87L177.00 148.99L177.50 146.05L178.00 143.05L178.50 140.01L179.00 136.95L179.50 133.89L180.00 130.84L180.50 127.82L181.00 124.85L181.50 121.96L182.00 119.17L182.50 116.48L183.00 113.94L183.50 111.55L184.00 109.33L184.50 107.30L185.00 105.49L185.50 103.89L186.00 102.54L186.50 101.43L187.00 100.58L187.50 99.99L188.00 99.66L188.50 99.61L189.00 99.82L189.50 100.30L190.00 101.04L190.50 102.02L191.00 103.24L191.50 104.69L192.00 106.35L192.50 108.20L193.00 110.22L193.50 112.39L194.00 114.70L194.50 117.12L195.00 119.62L195.50 122.19L196.00 124.80L196.50 127.43L197.00 130.05L197.50 132.64L198.00 135.19L198.50 137.66L199.00 140.05L199.50 142.34L200.00 144.50L200.50 146.53L201.00 148.41L201.50 150.13L202.00 151.68L202.50 153.05L203.00 154.24L203.50 155.24L204.00 156.06L204.50 156.68L205.00 157.10L205.50 157.34L206.00 157.40L206.50 157.27L207.00 156.96L207.50 156.48L208.00 155.85L208.50 155.06L209.00 154.12L209.50 153.06L210.00 151.87L210.50 150.57L211.00 149.17L211.50 147.69L212.00 146.13L212.50 144.52L213.00 142.86L213.50 141.17L214.00 139.46L214.50 137.75L215.00 136.05L215.50 134.37L216.00 132.72L216.50 131.13L217.00 129.59L217.50 128.13L218.00 126.76L218.50 125.48L219.00 124.30L219.50 123.24L220.00 122.31L220.50 121.50L221.00 120.83L221.50 120.30L222.00 119.92L222.50 119.68L223.00 119.60L223.50 119.67L224.00 119.89L224.50 120.27L225.00 120.79L225.50 121.46L226.00 122.27L226.50 123.21L227.00 124.29L227.50 125.49L228.00 126.81L228.50 128.23L229.00 129.76L229.50 131.37L230.00 133.07L230.50 134.84L231.00 136.67L231.50 138.55L232.00 140.48L232.50 142.43L233.00 144.41L233.50 146.40L234.00 148.39L234.50 150.38L235.00 152.36L235.50 154.31L236.00 156.24L236.50 158.13L237.00 159.98L237.50 161.78L238.00 163.53L238.50 165.22L239.00 166.86L239.50 168.43L240.00 169.94L240.50 171.38L241.00 172.75L241.50 174.06L242.00 175.29L242.50 176.46L243.00 177.56L243.50 178.59L244.00 179.56L244.50 180.47L245.00 181.31L245.50 182.09L246.00 182.81L246.50 183.48L247.00 184.10L247.50 184.66L248.00 185.18L248.50 185.65L249.00 186.08L249.50 186.47L250.00 186.82L250.50 187.14L251.00 187.42L251.50 187.68L252.00 187.91L252.50 188.11L253.00 188.29L253.50 188.45L254.00 188.59L254.50 188.72L255.00 188.83L255.50 188.92L256.00 189.00L256.50 189.07L257.00 189.13L257.50 189.18L258.00 189.22L258.50 189.25L259.00 189.28L259.50 189.30L260.00 189.32L260.50 189.33L261.00 189.34L261.50 189.35L262.00 189.35L262.50 189.35L263.00 189.34L263.50 189.34L264.00 189.33L264.50 189.32L265.00 189.31L265.50 189.30L266.00 189.29L266.50 189.27L267.00 189.26L267.50 189.24L268.00 189.23L268.50 189.21L269.00 189.20L269.50 189.18L270.00 189.16L270.50 189.14L271.00 189.13L271.50 189.11L272.00 189.09L272.50 189.07L273.00 189.05L273.50 189.03L274.00 189.01L274.50 189.00L275.00 188.98L275.50 188.96L276.00 188.94L276.50 188.92L277.00 188.90L277.50 188.88L278.00 188.86L278.50 188.84L279.00 188.82L279.50 188.80L280.00 188.78L280.50 188.77L281.00 188.75L281.50 188.73L282.00 188.71L282.50 188.69L283.00 188.67L283.50 188.65L284.00 188.63L284.50 188.62L285.00 188.60L285.50 188.58L286.00 188.56L286.50 188.54L287.00 188.53L287.50 188.51L288.00 188.49L288.50 188.48L289.00 188.46L289.50 188.44L290.00 188.43L290.50 188.41L291.00 188.39L291.50 188.38L292.00 188.36L292.50 188.35L293.00 188.34L293.50 188.32L294.00 188.31L294.50 188.29L295.00 188.28L295.50 188.27L296.00 188.26L296.50 188.24L297.00 188.23L297.50 188.22L298.00 188.21L298.50 188.20L299.00 188.19L299.50 188.18L300.00 188.17L300.50 188.16L301.00 188.16L301.50 188.15L302.00 188.14L302.50 188.14L303.00 188.13L303.50 188.12L304.00 188.12L304.50 188.11L305.00 188.11L305.50 188.11L306.00 188.10L306.50 188.10L307.00 188.10L307.50 188.10L308.00 188.10L308.50 188.10L309.00 188.10L309.50 188.10L310.00 188.10L310.50 188.10L311.00 188.10L311.50 188.10L312.00 188.10L312.50 188.10L313.00 188.10L313.50 188.10L314.00 188.10L314.50 188.10L315.00 188.10L315.50 188.10L316.00 188.10L316.50 188.10L317.00 188.10L317.50 188.10L318.00 188.10L318.50 188.10L319.00 188.10L319.50 188.10L320.00 188.10L320.50 188.10L321.00 188.10L321.50 188.10L322.00 188.10L322.50 188.10L323.00 188.10L323.50 188.10L324.00 188.10L324.50 188.10L325.00 188.10L325.50 188.10L326.00 188.10L326.50 188.10L327.00 188.10L327.50 188.10L328.00 188.10L328.50 188.10L329.00 188.10L329.50 188.10L330.00 188.10L330.50 188.10L331.00 188.10L331.50 188.10L332.00 188.10L332.50 188.10L333.00 188.10L333.50 188.10L334.00 188.10L334.50 188.10L335.00 188.10L335.50 188.10L336.00 188.10L336.50 188.10"/>
</g>
<g clip-path="url(#cb)" fill="none" stroke="#0a0a0a" stroke-width="1.95" stroke-linejoin="round">
<path d="M428.05 115.75L428.55 115.73L429.05 115.62L429.55 115.41L430.05 115.15L430.55 114.96L431.05 114.90L431.55 114.96L432.05 115.07L432.55 115.17L433.05 115.25L433.55 115.27L434.05 115.26L434.55 115.23L435.05 115.22L435.55 115.27L436.05 115.36L436.55 115.44L437.05 115.41L437.55 115.25L438.05 115.00L438.55 114.72L439.05 114.50L439.55 114.38L440.05 114.40L440.55 114.54L441.05 114.71L441.55 114.81L442.05 114.83L442.55 114.76L443.05 114.65L443.55 114.54L444.05 114.45L444.55 114.42L445.05 114.46L445.55 114.61L446.05 114.87L446.55 115.19L447.05 115.54L447.55 115.83L448.05 115.99L448.55 115.96L449.05 115.73L449.55 115.37L450.05 115.05L450.55 114.85L451.05 114.82L451.55 114.95L452.05 115.18L452.55 115.41L453.05 115.55L453.55 115.57L454.05 115.50L454.55 115.40L455.05 115.33L455.55 115.33L456.05 115.38L456.55 115.48L457.05 115.61L457.55 115.71L458.05 115.79L458.55 115.80L459.05 115.75L459.55 115.65L460.05 115.48L460.55 115.29L461.05 115.12L461.55 115.00L462.05 114.94L462.55 114.95L463.05 115.00L463.55 115.00L464.05 114.88L464.55 114.66L465.05 114.40L465.55 114.12L466.05 113.92L466.55 113.82L467.05 113.84L467.55 114.00L468.05 114.21L468.55 114.40L469.05 114.53L469.55 114.67L470.05 114.81L470.55 114.91L471.05 114.97L471.55 115.00L472.05 115.01L472.55 115.00L473.05 114.94L473.55 114.85L474.05 114.75L474.55 114.68L475.05 114.60L475.55 114.50L476.05 114.38L476.55 114.31L477.05 114.27L477.55 114.26L478.05 114.27L478.55 114.30L479.05 114.34L479.55 114.38L480.05 114.38L480.55 114.33L481.05 114.21L481.55 114.01L482.05 113.79L482.55 113.58L483.05 113.43L483.55 113.34L484.05 113.28L484.55 113.23L485.05 113.21L485.55 113.21L486.05 113.23L486.55 113.22L487.05 113.19L487.55 113.13L488.05 113.00L488.55 112.79L489.05 112.48L489.55 112.05L490.05 111.57L490.55 111.10L491.05 110.66L491.55 110.25L492.05 109.85L492.55 109.45L493.05 109.00L493.55 108.46L494.05 107.80L494.55 106.94L495.05 105.88L495.55 104.65L496.05 103.24L496.55 101.64L497.05 99.86L497.55 97.91L498.05 95.79L498.55 93.49L499.05 91.03L499.55 88.41L500.05 85.60L500.55 82.61L501.05 79.41L501.55 76.04L502.05 72.58L502.55 69.03L503.05 65.40L503.55 61.73L504.05 58.05L504.55 54.42L505.05 50.88L505.55 47.46L506.05 44.24L506.55 41.29L507.05 38.68L507.55 36.44L508.05 34.61L508.55 33.32L509.05 32.65L509.55 32.66L510.05 33.33L510.55 34.57L511.05 36.28L511.55 38.32L512.05 40.59L512.55 43.01L513.05 45.61L513.55 48.47L514.05 51.64L514.55 55.10L515.05 58.77L515.55 62.53L516.05 66.30L516.55 70.01L517.05 73.61L517.55 77.10L518.05 80.53L518.55 83.88L519.05 87.08L519.55 90.02L520.05 92.65L520.55 94.96L521.05 96.98L521.55 98.80L522.05 100.46L522.55 102.02L523.05 103.51L523.55 104.88L524.05 106.05L524.55 106.97L525.05 107.68L525.55 108.23L526.05 108.69L526.55 109.11L527.05 109.51L527.55 109.89L528.05 110.25L528.55 110.53L529.05 110.72L529.55 110.80L530.05 110.80L530.55 110.75L531.05 110.69L531.55 110.66L532.05 110.70L532.55 110.76L533.05 110.83L533.55 110.86L534.05 110.87L534.55 110.85L535.05 110.84L535.55 110.86L536.05 110.92L536.55 111.06L537.05 111.27L537.55 111.49L538.05 111.64L538.55 111.68L539.05 111.63L539.55 111.48L540.05 111.29L540.55 111.15L541.05 111.09L541.55 111.16L542.05 111.37L542.55 111.65L543.05 111.93L543.55 112.16L544.05 112.29L544.55 112.33L545.05 112.27L545.55 112.10L546.05 111.83L546.55 111.48L547.05 111.11L547.55 110.77L548.05 110.50L548.55 110.37L549.05 110.41L549.55 110.57L550.05 110.82L550.55 111.06L551.05 111.25L551.55 111.38L552.05 111.44L552.55 111.42L553.05 111.33L553.55 111.19L554.05 111.05L554.55 110.90L555.05 110.72L555.55 110.56L556.05 110.45L556.55 110.41L557.05 110.43L557.55 110.49L558.05 110.50L558.55 110.42L559.05 110.24L559.55 109.97L560.05 109.66L560.55 109.37L561.05 109.14L561.55 109.00L562.05 108.96L562.55 109.00L563.05 109.05L563.55 109.03L564.05 108.93L564.55 108.77L565.05 108.55L565.55 108.24L566.05 107.82L566.55 107.29L567.05 106.68L567.55 106.02L568.05 105.35L568.55 104.72L569.05 104.23L569.55 103.90L570.05 103.66L570.55 103.40L571.05 103.07L571.55 102.66L572.05 102.15L572.55 101.56L573.05 100.94L573.55 100.34L574.05 99.81L574.55 99.36L575.05 98.95L575.55 98.54L576.05 98.11L576.55 97.65L577.05 97.10L577.55 96.42L578.05 95.67L578.55 94.90L579.05 94.17L579.55 93.54L580.05 93.07L580.55 92.77L581.05 92.60L581.55 92.50L582.05 92.37L582.55 92.11L583.05 91.74L583.55 91.34L584.05 90.96L584.55 90.71L585.05 90.62L585.55 90.66L586.05 90.80L586.55 90.99L587.05 91.13L587.55 91.18L588.05 91.17L588.55 91.20L589.05 91.29L589.55 91.45L590.05 91.68L590.55 91.95L591.05 92.33L591.55 92.87L592.05 93.50L592.55 94.14L593.05 94.74L593.55 95.27L594.05 95.72L594.55 96.12L595.05 96.50L595.55 96.91L596.05 97.45L596.55 98.15L597.05 98.96L597.55 99.74L598.05 100.42L598.55 100.95L599.05 101.38L599.55 101.78L600.05 102.21L600.55 102.73L601.05 103.33L601.55 103.99L602.05 104.64L602.55 105.25L603.05 105.76L603.55 106.19L604.05 106.61L604.55 107.05L605.05 107.52L605.55 108.00L606.05 108.46L606.55 108.84L607.05 109.14L607.55 109.38L608.05 109.57L608.55 109.75L609.05 109.90L609.55 110.01L610.05 110.09L610.55 110.13L611.05 110.15L611.55 110.16L612.05 110.16L612.55 110.19L613.05 110.29L613.55 110.45L614.05 110.65L614.55 110.84L615.05 111.04L615.55 111.20L616.05 111.29L616.55 111.31L617.05 111.32L617.55 111.39L618.05 111.58L618.55 111.90L619.05 112.25L619.55 112.55L620.05 112.76L620.55 112.86L621.05 112.84L621.55 112.75L622.05 112.68L622.55 112.69L623.05 112.80L623.55 112.94L624.05 113.02L624.55 113.01L625.05 112.91L625.55 112.76L626.05 112.63L626.55 112.54L627.05 112.55L627.55 112.68L628.05 112.87L628.55 113.04L629.05 113.12L629.55 113.11L630.05 113.05L630.55 112.93L631.05 112.79L631.55 112.65L632.05 112.48L632.55 112.29L633.05 112.10L633.55 111.99L634.05 112.01L634.55 112.15L635.05 112.40L635.55 112.69L636.05 112.89L636.55 112.99L637.05 112.96L637.55 112.81L638.05 112.57L638.55 112.35L639.05 112.21L639.55 112.20L640.05 112.31L640.55 112.52L641.05 112.77L641.55 112.97L642.05 113.06L642.55 113.03L643.05 112.86L643.55 112.62L644.05 112.40L644.55 112.26L645.05 112.19L645.55 112.18L646.05 112.20L646.55 112.22L647.05 112.20L647.55 112.16L648.05 112.08L648.55 111.96L649.05 111.78L649.55 111.55L650.05 111.33L650.55 111.14L651.05 111.03L651.55 110.97L652.05 110.94L652.55 110.94L653.05 110.98L653.55 111.03L654.05 111.07L654.55 111.07L655.05 111.04L655.55 110.96L656.05 110.80L656.55 110.58L657.05 110.36L657.55 110.21L658.05 110.19L658.55 110.25L659.05 110.32L659.55 110.34L660.05 110.30L660.55 110.23L661.05 110.16L661.55 110.14L662.05 110.14L662.55 110.14L663.05 110.15L663.55 110.14L664.05 110.06L664.55 109.96L665.05 109.87L665.55 109.82L666.05 109.84L666.55 109.85L667.05 109.83L667.55 109.78L668.05 109.73L668.55 109.68L669.05 109.59L669.55 109.47L670.05 109.36L670.55 109.26L671.05 109.16L671.55 109.08L672.05 109.01L672.55 108.97L673.05 108.96L673.55 108.95L674.05 108.90L674.55 108.81L675.05 108.68L675.55 108.50L676.05 108.29L676.55 108.11L677.05 108.01L677.55 108.01L678.05 108.07L678.55 108.12L679.05 108.09L679.55 107.96L680.05 107.76L680.55 107.54L681.05 107.34L681.55 107.23L682.05 107.16L682.55 107.12L683.05 107.11"/>
<path d="M428.05 137.60L428.55 137.23L429.05 136.94L429.55 136.80L430.05 136.81L430.55 136.92L431.05 137.04L431.55 137.14L432.05 137.19L432.55 137.20L433.05 137.21L433.55 137.26L434.05 137.37L434.55 137.55L435.05 137.72L435.55 137.83L436.05 137.91L436.55 137.96L437.05 137.99L437.55 137.97L438.05 137.91L438.55 137.90L439.05 137.96L439.55 138.06L440.05 138.14L440.55 138.17L441.05 138.15L441.55 138.08L442.05 137.94L442.55 137.76L443.05 137.64L443.55 137.61L444.05 137.68L444.55 137.76L445.05 137.79L445.55 137.74L446.05 137.69L446.55 137.71L447.05 137.86L447.55 138.11L448.05 138.42L448.55 138.71L449.05 138.86L449.55 138.83L450.05 138.63L450.55 138.37L451.05 138.18L451.55 138.09L452.05 138.13L452.55 138.25L453.05 138.35L453.55 138.42L454.05 138.39L454.55 138.25L455.05 138.08L455.55 137.93L456.05 137.86L456.55 137.82L457.05 137.78L457.55 137.77L458.05 137.79L458.55 137.78L459.05 137.75L459.55 137.73L460.05 137.75L460.55 137.85L461.05 138.01L461.55 138.20L462.05 138.40L462.55 138.56L463.05 138.62L463.55 138.56L464.05 138.38L464.55 138.17L465.05 137.98L465.55 137.82L466.05 137.69L466.55 137.62L467.05 137.60L467.55 137.58L468.05 137.53L468.55 137.46L469.05 137.36L469.55 137.28L470.05 137.27L470.55 137.29L471.05 137.32L471.55 137.32L472.05 137.30L472.55 137.29L473.05 137.27L473.55 137.22L474.05 137.12L474.55 137.00L475.05 136.87L475.55 136.72L476.05 136.55L476.55 136.40L477.05 136.29L477.55 136.28L478.05 136.39L478.55 136.57L479.05 136.78L479.55 137.02L480.05 137.24L480.55 137.38L481.05 137.42L481.55 137.36L482.05 137.19L482.55 136.94L483.05 136.69L483.55 136.48L484.05 136.35L484.55 136.32L485.05 136.37L485.55 136.43L486.05 136.46L486.55 136.40L487.05 136.25L487.55 136.04L488.05 135.82L488.55 135.67L489.05 135.65L489.55 135.72L490.05 135.78L490.55 135.76L491.05 135.57L491.55 135.16L492.05 134.56L492.55 133.80L493.05 132.87L493.55 131.85L494.05 130.82L494.55 129.79L495.05 128.77L495.55 127.78L496.05 126.79L496.55 125.68L497.05 124.38L497.55 122.88L498.05 121.14L498.55 119.16L499.05 116.96L499.55 114.60L500.05 112.13L500.55 109.54L501.05 106.83L501.55 103.99L502.05 101.05L502.55 98.03L503.05 94.94L503.55 91.77L504.05 88.56L504.55 85.42L505.05 82.46L505.55 79.73L506.05 77.24L506.55 75.01L507.05 73.07L507.55 71.44L508.05 70.14L508.55 69.22L509.05 68.71L509.55 68.66L510.05 69.02L510.55 69.80L511.05 70.99L511.55 72.55L512.05 74.42L512.55 76.62L513.05 79.11L513.55 81.83L514.05 84.77L514.55 87.85L515.05 91.00L515.55 94.16L516.05 97.28L516.55 100.30L517.05 103.21L517.55 106.02L518.05 108.74L518.55 111.31L519.05 113.73L519.55 116.03L520.05 118.19L520.55 120.23L521.05 122.16L521.55 123.97L522.05 125.61L522.55 127.07L523.05 128.36L523.55 129.43L524.05 130.26L524.55 130.92L525.05 131.47L525.55 131.90L526.05 132.26L526.55 132.55L527.05 132.82L527.55 133.14L528.05 133.52L528.55 133.91L529.05 134.24L529.55 134.46L530.05 134.60L530.55 134.63L531.05 134.58L531.55 134.50L532.05 134.42L532.55 134.37L533.05 134.32L533.55 134.27L534.05 134.24L534.55 134.26L535.05 134.32L535.55 134.42L536.05 134.56L536.55 134.67L537.05 134.70L537.55 134.64L538.05 134.53L538.55 134.45L539.05 134.47L539.55 134.59L540.05 134.78L540.55 134.95L541.05 135.06L541.55 135.08L542.05 134.99L542.55 134.85L543.05 134.78L543.55 134.80L544.05 134.88L544.55 134.98L545.05 135.06L545.55 135.08L546.05 135.04L546.55 134.96L547.05 134.87L547.55 134.82L548.05 134.82L548.55 134.86L549.05 134.87L549.55 134.84L550.05 134.78L550.55 134.69L551.05 134.58L551.55 134.43L552.05 134.30L552.55 134.16L553.05 134.03L553.55 133.93L554.05 133.85L554.55 133.82L555.05 133.87L555.55 133.98L556.05 134.08L556.55 134.10L557.05 134.05L557.55 133.95L558.05 133.79L558.55 133.64L559.05 133.54L559.55 133.50L560.05 133.50L560.55 133.50L561.05 133.43L561.55 133.24L562.05 132.99L562.55 132.77L563.05 132.57L563.55 132.32L564.05 132.02L564.55 131.69L565.05 131.35L565.55 131.04L566.05 130.78L566.55 130.57L567.05 130.43L567.55 130.36L568.05 130.30L568.55 130.16L569.05 129.95L569.55 129.67L570.05 129.35L570.55 128.97L571.05 128.54L571.55 128.04L572.05 127.55L572.55 127.14L573.05 126.81L573.55 126.51L574.05 126.21L574.55 125.81L575.05 125.28L575.55 124.66L576.05 123.97L576.55 123.27L577.05 122.65L577.55 122.10L578.05 121.60L578.55 121.12L579.05 120.67L579.55 120.24L580.05 119.80L580.55 119.38L581.05 118.95L581.55 118.54L582.05 118.18L582.55 117.91L583.05 117.71L583.55 117.63L584.05 117.69L584.55 117.75L585.05 117.71L585.55 117.56L586.05 117.35L586.55 117.13L587.05 117.00L587.55 117.02L588.05 117.21L588.55 117.50L589.05 117.80L589.55 118.03L590.05 118.19L590.55 118.37L591.05 118.64L591.55 119.06L592.05 119.61L592.55 120.26L593.05 120.95L593.55 121.53L594.05 121.95L594.55 122.22L595.05 122.43L595.55 122.69L596.05 123.06L596.55 123.55L597.05 124.11L597.55 124.69L598.05 125.25L598.55 125.75L599.05 126.17L599.55 126.55L600.05 126.95L600.55 127.38L601.05 127.83L601.55 128.28L602.05 128.70L602.55 129.12L603.05 129.57L603.55 130.03L604.05 130.49L604.55 130.99L605.05 131.49L605.55 131.94L606.05 132.29L606.55 132.53L607.05 132.71L607.55 132.84L608.05 132.89L608.55 132.88L609.05 132.86L609.55 132.91L610.05 133.08L610.55 133.36L611.05 133.72L611.55 134.12L612.05 134.50L612.55 134.81L613.05 135.01L613.55 135.09L614.05 135.11L614.55 135.12L615.05 135.11L615.55 135.06L616.05 134.93L616.55 134.72L617.05 134.52L617.55 134.43L618.05 134.51L618.55 134.73L619.05 134.99L619.55 135.22L620.05 135.38L620.55 135.40L621.05 135.31L621.55 135.11L622.05 134.90L622.55 134.80L623.05 134.81L623.55 134.88L624.05 134.93L624.55 134.97L625.05 135.03L625.55 135.11L626.05 135.18L626.55 135.23L627.05 135.25L627.55 135.33L628.05 135.43L628.55 135.51L629.05 135.56L629.55 135.59L630.05 135.64L630.55 135.74L631.05 135.88L631.55 136.01L632.05 136.14L632.55 136.26L633.05 136.33L633.55 136.29L634.05 136.16L634.55 135.96L635.05 135.75L635.55 135.54L636.05 135.33L636.55 135.09L637.05 134.86L637.55 134.71L638.05 134.63L638.55 134.61L639.05 134.68L639.55 134.84L640.05 135.02L640.55 135.16L641.05 135.22L641.55 135.20L642.05 135.12L642.55 135.02L643.05 134.87L643.55 134.71L644.05 134.54L644.55 134.39L645.05 134.28L645.55 134.18L646.05 134.10L646.55 134.03L647.05 133.95L647.55 133.88L648.05 133.84L648.55 133.82L649.05 133.84L649.55 133.89L650.05 133.93L650.55 133.98L651.05 134.01L651.55 134.04L652.05 134.05L652.55 134.07L653.05 134.08L653.55 133.98L654.05 133.77L654.55 133.44L655.05 133.06L655.55 132.74L656.05 132.58L656.55 132.64L657.05 132.84L657.55 133.11L658.05 133.36L658.55 133.46L659.05 133.41L659.55 133.26L660.05 133.09L660.55 132.98L661.05 132.96L661.55 132.96L662.05 132.94L662.55 132.87L663.05 132.74L663.55 132.56L664.05 132.39L664.55 132.26L665.05 132.22L665.55 132.24L666.05 132.29L666.55 132.33L667.05 132.35L667.55 132.36L668.05 132.36L668.55 132.40L669.05 132.46L669.55 132.51L670.05 132.52L670.55 132.53L671.05 132.50L671.55 132.42L672.05 132.25L672.55 131.98L673.05 131.65L673.55 131.33L674.05 131.04L674.55 130.77L675.05 130.55L675.55 130.42L676.05 130.40L676.55 130.38L677.05 130.34L677.55 130.25L678.05 130.17L678.55 130.08L679.05 130.01L679.55 129.93L680.05 129.86L680.55 129.85L681.05 129.84L681.55 129.82L682.05 129.79L682.55 129.74L683.05 129.63"/>
<path d="M428.05 157.97L428.55 158.04L429.05 158.16L429.55 158.27L430.05 158.31L430.55 158.21L431.05 158.03L431.55 157.84L432.05 157.70L432.55 157.66L433.05 157.70L433.55 157.78L434.05 157.87L434.55 157.94L435.05 158.00L435.55 158.04L436.05 158.09L436.55 158.19L437.05 158.31L437.55 158.42L438.05 158.50L438.55 158.49L439.05 158.41L439.55 158.30L440.05 158.18L440.55 158.11L441.05 158.13L441.55 158.23L442.05 158.37L442.55 158.49L443.05 158.54L443.55 158.52L444.05 158.46L444.55 158.43L445.05 158.45L445.55 158.51L446.05 158.59L446.55 158.64L447.05 158.61L447.55 158.51L448.05 158.38L448.55 158.30L449.05 158.28L449.55 158.27L450.05 158.24L450.55 158.17L451.05 158.03L451.55 157.85L452.05 157.67L452.55 157.53L453.05 157.42L453.55 157.38L454.05 157.41L454.55 157.47L455.05 157.52L455.55 157.56L456.05 157.59L456.55 157.60L457.05 157.60L457.55 157.57L458.05 157.53L458.55 157.50L459.05 157.51L459.55 157.58L460.05 157.69L460.55 157.77L461.05 157.85L461.55 157.92L462.05 157.95L462.55 157.91L463.05 157.79L463.55 157.63L464.05 157.49L464.55 157.44L465.05 157.45L465.55 157.48L466.05 157.54L466.55 157.64L467.05 157.80L467.55 158.01L468.05 158.23L468.55 158.39L469.05 158.46L469.55 158.44L470.05 158.33L470.55 158.15L471.05 157.95L471.55 157.81L472.05 157.78L472.55 157.84L473.05 157.90L473.55 157.83L474.05 157.66L474.55 157.48L475.05 157.34L475.55 157.23L476.05 157.17L476.55 157.18L477.05 157.24L477.55 157.32L478.05 157.35L478.55 157.29L479.05 157.19L479.55 157.14L480.05 157.11L480.55 157.03L481.05 156.89L481.55 156.74L482.05 156.57L482.55 156.37L483.05 156.16L483.55 155.97L484.05 155.84L484.55 155.78L485.05 155.79L485.55 155.84L486.05 155.92L486.55 156.05L487.05 156.16L487.55 156.18L488.05 156.09L488.55 155.91L489.05 155.67L489.55 155.39L490.05 155.12L490.55 154.85L491.05 154.56L491.55 154.18L492.05 153.67L492.55 153.04L493.05 152.31L493.55 151.53L494.05 150.71L494.55 149.84L495.05 148.92L495.55 147.91L496.05 146.76L496.55 145.43L497.05 143.92L497.55 142.23L498.05 140.35L498.55 138.25L499.05 135.92L499.55 133.36L500.05 130.61L500.55 127.71L501.05 124.68L501.55 121.56L502.05 118.37L502.55 115.13L503.05 111.82L503.55 108.41L504.05 104.92L504.55 101.38L505.05 97.91L505.55 94.65L506.05 91.73L506.55 89.18L507.05 87.01L507.55 85.23L508.05 83.86L508.55 82.92L509.05 82.44L509.55 82.41L510.05 82.80L510.55 83.59L511.05 84.81L511.55 86.42L512.05 88.40L512.55 90.75L513.05 93.52L513.55 96.62L514.05 99.97L514.55 103.45L515.05 106.98L515.55 110.49L516.05 113.96L516.55 117.42L517.05 120.82L517.55 124.09L518.05 127.16L518.55 129.96L519.05 132.48L519.55 134.75L520.05 136.85L520.55 138.83L521.05 140.72L521.55 142.55L522.05 144.27L522.55 145.85L523.05 147.20L523.55 148.27L524.05 149.08L524.55 149.66L525.05 150.11L525.55 150.53L526.05 151.01L526.55 151.57L527.05 152.13L527.55 152.62L528.05 152.99L528.55 153.18L529.05 153.21L529.55 153.21L530.05 153.27L530.55 153.44L531.05 153.73L531.55 154.10L532.05 154.41L532.55 154.62L533.05 154.73L533.55 154.69L534.05 154.52L534.55 154.27L535.05 154.04L535.55 153.89L536.05 153.87L536.55 154.03L537.05 154.31L537.55 154.61L538.05 154.87L538.55 155.04L539.05 155.06L539.55 155.02L540.05 154.99L540.55 155.04L541.05 155.13L541.55 155.20L542.05 155.18L542.55 155.04L543.05 154.82L543.55 154.57L544.05 154.36L544.55 154.21L545.05 154.16L545.55 154.20L546.05 154.28L546.55 154.32L547.05 154.32L547.55 154.33L548.05 154.36L548.55 154.39L549.05 154.43L549.55 154.48L550.05 154.53L550.55 154.57L551.05 154.61L551.55 154.63L552.05 154.60L552.55 154.49L553.05 154.31L553.55 154.07L554.05 153.82L554.55 153.62L555.05 153.52L555.55 153.58L556.05 153.78L556.55 154.07L557.05 154.38L557.55 154.63L558.05 154.78L558.55 154.79L559.05 154.62L559.55 154.32L560.05 153.94L560.55 153.55L561.05 153.19L561.55 152.87L562.05 152.61L562.55 152.38L563.05 152.15L563.55 151.95L564.05 151.78L564.55 151.66L565.05 151.58L565.55 151.48L566.05 151.30L566.55 151.04L567.05 150.65L567.55 150.15L568.05 149.58L568.55 149.05L569.05 148.61L569.55 148.22L570.05 147.85L570.55 147.44L571.05 146.91L571.55 146.23L572.05 145.43L572.55 144.60L573.05 143.83L573.55 143.21L574.05 142.73L574.55 142.35L575.05 141.98L575.55 141.57L576.05 141.06L576.55 140.47L577.05 139.90L577.55 139.39L578.05 138.98L578.55 138.68L579.05 138.42L579.55 138.14L580.05 137.80L580.55 137.41L581.05 137.00L581.55 136.64L582.05 136.33L582.55 136.10L583.05 135.94L583.55 135.84L584.05 135.75L584.55 135.64L585.05 135.51L585.55 135.38L586.05 135.29L586.55 135.25L587.05 135.26L587.55 135.34L588.05 135.50L588.55 135.75L589.05 136.06L589.55 136.42L590.05 136.84L590.55 137.29L591.05 137.75L591.55 138.19L592.05 138.60L592.55 138.98L593.05 139.29L593.55 139.58L594.05 139.90L594.55 140.29L595.05 140.74L595.55 141.24L596.05 141.69L596.55 142.06L597.05 142.33L597.55 142.58L598.05 142.89L598.55 143.37L599.05 144.01L599.55 144.80L600.05 145.64L600.55 146.41L601.05 147.00L601.55 147.42L602.05 147.69L602.55 147.93L603.05 148.25L603.55 148.67L604.05 149.15L604.55 149.67L605.05 150.17L605.55 150.56L606.05 150.83L606.55 151.00L607.05 151.14L607.55 151.25L608.05 151.36L608.55 151.48L609.05 151.61L609.55 151.72L610.05 151.82L610.55 151.90L611.05 152.00L611.55 152.11L612.05 152.22L612.55 152.34L613.05 152.46L613.55 152.58L614.05 152.72L614.55 152.89L615.05 153.04L615.55 153.13L616.05 153.12L616.55 153.05L617.05 152.97L617.55 152.95L618.05 153.00L618.55 153.13L619.05 153.30L619.55 153.51L620.05 153.72L620.55 153.92L621.05 154.09L621.55 154.27L622.05 154.48L622.55 154.66L623.05 154.78L623.55 154.82L624.05 154.76L624.55 154.58L625.05 154.32L625.55 154.02L626.05 153.72L626.55 153.46L627.05 153.32L627.55 153.28L628.05 153.33L628.55 153.43L629.05 153.50L629.55 153.45L630.05 153.31L630.55 153.14L631.05 152.99L631.55 152.90L632.05 152.92L632.55 153.07L633.05 153.30L633.55 153.51L634.05 153.62L634.55 153.54L635.05 153.35L635.55 153.15L636.05 152.99L636.55 152.94L637.05 153.01L637.55 153.15L638.05 153.30L638.55 153.41L639.05 153.46L639.55 153.44L640.05 153.41L640.55 153.40L641.05 153.41L641.55 153.41L642.05 153.40L642.55 153.37L643.05 153.28L643.55 153.16L644.05 153.05L644.55 152.90L645.05 152.73L645.55 152.60L646.05 152.53L646.55 152.52L647.05 152.59L647.55 152.69L648.05 152.76L648.55 152.78L649.05 152.74L649.55 152.62L650.05 152.47L650.55 152.37L651.05 152.34L651.55 152.36L652.05 152.43L652.55 152.55L653.05 152.69L653.55 152.79L654.05 152.78L654.55 152.67L655.05 152.53L655.55 152.42L656.05 152.33L656.55 152.22L657.05 152.10L657.55 151.97L658.05 151.84L658.55 151.68L659.05 151.52L659.55 151.41L660.05 151.40L660.55 151.42L661.05 151.38L661.55 151.25L662.05 151.05L662.55 150.82L663.05 150.65L663.55 150.60L664.05 150.67L664.55 150.84L665.05 151.06L665.55 151.25L666.05 151.35L666.55 151.34L667.05 151.25L667.55 151.12L668.05 150.98L668.55 150.91L669.05 150.86L669.55 150.82L670.05 150.81L670.55 150.83L671.05 150.82L671.55 150.80L672.05 150.79L672.55 150.76L673.05 150.72L673.55 150.66L674.05 150.52L674.55 150.29L675.05 149.99L675.55 149.69L676.05 149.43L676.55 149.28L677.05 149.28L677.55 149.41L678.05 149.60L678.55 149.75L679.05 149.80L679.55 149.70L680.05 149.50L680.55 149.27L681.05 149.06L681.55 148.94L682.05 148.91L682.55 148.96L683.05 149.03"/>
<path d="M428.05 176.63L428.55 176.79L429.05 176.95L429.55 177.05L430.05 177.05L430.55 176.95L431.05 176.81L431.55 176.70L432.05 176.62L432.55 176.57L433.05 176.55L433.55 176.50L434.05 176.35L434.55 176.15L435.05 175.96L435.55 175.87L436.05 175.91L436.55 176.04L437.05 176.20L437.55 176.32L438.05 176.38L438.55 176.40L439.05 176.40L439.55 176.41L440.05 176.49L440.55 176.60L441.05 176.65L441.55 176.61L442.05 176.47L442.55 176.28L443.05 176.08L443.55 175.91L444.05 175.83L444.55 175.83L445.05 175.89L445.55 175.98L446.05 176.07L446.55 176.17L447.05 176.27L447.55 176.33L448.05 176.40L448.55 176.49L449.05 176.60L449.55 176.67L450.05 176.66L450.55 176.59L451.05 176.49L451.55 176.39L452.05 176.32L452.55 176.29L453.05 176.35L453.55 176.48L454.05 176.58L454.55 176.57L455.05 176.44L455.55 176.26L456.05 176.02L456.55 175.74L457.05 175.45L457.55 175.21L458.05 175.07L458.55 175.06L459.05 175.18L459.55 175.33L460.05 175.49L460.55 175.62L461.05 175.68L461.55 175.66L462.05 175.56L462.55 175.44L463.05 175.39L463.55 175.43L464.05 175.49L464.55 175.55L465.05 175.62L465.55 175.71L466.05 175.81L466.55 175.87L467.05 175.91L467.55 175.92L468.05 175.92L468.55 175.91L469.05 175.84L469.55 175.73L470.05 175.61L470.55 175.50L471.05 175.38L471.55 175.27L472.05 175.21L472.55 175.19L473.05 175.19L473.55 175.20L474.05 175.25L474.55 175.29L475.05 175.32L475.55 175.33L476.05 175.31L476.55 175.23L477.05 175.12L477.55 174.98L478.05 174.80L478.55 174.63L479.05 174.50L479.55 174.44L480.05 174.44L480.55 174.48L481.05 174.55L481.55 174.61L482.05 174.63L482.55 174.65L483.05 174.68L483.55 174.70L484.05 174.69L484.55 174.64L485.05 174.49L485.55 174.23L486.05 173.90L486.55 173.55L487.05 173.27L487.55 173.10L488.05 173.04L488.55 173.03L489.05 173.03L489.55 173.03L490.05 173.04L490.55 173.00L491.05 172.87L491.55 172.64L492.05 172.28L492.55 171.74L493.05 170.99L493.55 170.06L494.05 169.00L494.55 167.89L495.05 166.74L495.55 165.53L496.05 164.26L496.55 162.95L497.05 161.54L497.55 159.96L498.05 158.16L498.55 156.09L499.05 153.73L499.55 151.08L500.05 148.16L500.55 145.06L501.05 141.89L501.55 138.69L502.05 135.43L502.55 132.12L503.05 128.80L503.55 125.51L504.05 122.27L504.55 119.08L505.05 115.94L505.55 112.91L506.05 110.03L506.55 107.35L507.05 104.94L507.55 102.90L508.05 101.35L508.55 100.32L509.05 99.79L509.55 99.71L510.05 100.01L510.55 100.72L511.05 101.85L511.55 103.39L512.05 105.32L512.55 107.62L513.05 110.29L513.55 113.29L514.05 116.55L514.55 120.02L515.05 123.60L515.55 127.22L516.05 130.80L516.55 134.27L517.05 137.56L517.55 140.67L518.05 143.62L518.55 146.51L519.05 149.33L519.55 152.04L520.05 154.60L520.55 156.95L521.05 159.01L521.55 160.79L522.05 162.30L522.55 163.59L523.05 164.76L523.55 165.91L524.05 167.01L524.55 168.03L525.05 168.90L525.55 169.60L526.05 170.12L526.55 170.52L527.05 170.86L527.55 171.16L528.05 171.39L528.55 171.54L529.05 171.60L529.55 171.57L530.05 171.50L530.55 171.46L531.05 171.47L531.55 171.55L532.05 171.67L532.55 171.79L533.05 171.87L533.55 171.95L534.05 172.05L534.55 172.15L535.05 172.26L535.55 172.37L536.05 172.41L536.55 172.38L537.05 172.31L537.55 172.22L538.05 172.16L538.55 172.17L539.05 172.24L539.55 172.30L540.05 172.35L540.55 172.41L541.05 172.47L541.55 172.53L542.05 172.62L542.55 172.76L543.05 172.89L543.55 172.95L544.05 172.97L544.55 172.94L545.05 172.87L545.55 172.81L546.05 172.77L546.55 172.75L547.05 172.77L547.55 172.84L548.05 172.92L548.55 172.96L549.05 172.98L549.55 172.97L550.05 172.94L550.55 172.89L551.05 172.82L551.55 172.75L552.05 172.69L552.55 172.66L553.05 172.67L553.55 172.69L554.05 172.68L554.55 172.61L555.05 172.51L555.55 172.42L556.05 172.33L556.55 172.27L557.05 172.21L557.55 172.14L558.05 172.01L558.55 171.78L559.05 171.48L559.55 171.15L560.05 170.87L560.55 170.69L561.05 170.62L561.55 170.61L562.05 170.60L562.55 170.51L563.05 170.32L563.55 170.05L564.05 169.74L564.55 169.43L565.05 169.14L565.55 168.88L566.05 168.65L566.55 168.45L567.05 168.28L567.55 168.09L568.05 167.90L568.55 167.69L569.05 167.45L569.55 167.13L570.05 166.70L570.55 166.19L571.05 165.65L571.55 165.12L572.05 164.60L572.55 164.09L573.05 163.59L573.55 163.07L574.05 162.52L574.55 161.94L575.05 161.34L575.55 160.78L576.05 160.28L576.55 159.85L577.05 159.42L577.55 158.96L578.05 158.48L578.55 157.98L579.05 157.48L579.55 157.06L580.05 156.75L580.55 156.53L581.05 156.38L581.55 156.29L582.05 156.23L582.55 156.12L583.05 155.89L583.55 155.56L584.05 155.15L584.55 154.74L585.05 154.45L585.55 154.33L586.05 154.35L586.55 154.53L587.05 154.80L587.55 155.10L588.05 155.37L588.55 155.58L589.05 155.78L589.55 156.04L590.05 156.36L590.55 156.71L591.05 157.04L591.55 157.31L592.05 157.56L592.55 157.85L593.05 158.19L593.55 158.58L594.05 159.05L594.55 159.62L595.05 160.25L595.55 160.83L596.05 161.30L596.55 161.69L597.05 162.06L597.55 162.47L598.05 162.92L598.55 163.38L599.05 163.85L599.55 164.38L600.05 164.92L600.55 165.44L601.05 165.90L601.55 166.29L602.05 166.65L602.55 166.98L603.05 167.27L603.55 167.57L604.05 167.93L604.55 168.40L605.05 168.94L605.55 169.47L606.05 169.95L606.55 170.30L607.05 170.49L607.55 170.54L608.05 170.53L608.55 170.53L609.05 170.65L609.55 170.89L610.05 171.22L610.55 171.62L611.05 172.02L611.55 172.38L612.05 172.66L612.55 172.82L613.05 172.92L613.55 172.97L614.05 172.98L614.55 172.94L615.05 172.83L615.55 172.68L616.05 172.54L616.55 172.43L617.05 172.42L617.55 172.50L618.05 172.67L618.55 172.91L619.05 173.20L619.55 173.50L620.05 173.79L620.55 174.05L621.05 174.26L621.55 174.39L622.05 174.43L622.55 174.41L623.05 174.34L623.55 174.25L624.05 174.17L624.55 174.13L625.05 174.11L625.55 174.04L626.05 173.90L626.55 173.72L627.05 173.56L627.55 173.49L628.05 173.56L628.55 173.76L629.05 173.97L629.55 174.12L630.05 174.15L630.55 174.04L631.05 173.85L631.55 173.66L632.05 173.57L632.55 173.55L633.05 173.55L633.55 173.54L634.05 173.50L634.55 173.38L635.05 173.23L635.55 173.08L636.05 172.96L636.55 172.88L637.05 172.84L637.55 172.82L638.05 172.81L638.55 172.79L639.05 172.75L639.55 172.65L640.05 172.48L640.55 172.30L641.05 172.18L641.55 172.17L642.05 172.26L642.55 172.42L643.05 172.59L643.55 172.76L644.05 172.91L644.55 173.01L645.05 173.04L645.55 173.02L646.05 172.95L646.55 172.81L647.05 172.59L647.55 172.29L648.05 171.96L648.55 171.69L649.05 171.58L649.55 171.61L650.05 171.75L650.55 171.94L651.05 172.14L651.55 172.24L652.05 172.24L652.55 172.19L653.05 172.15L653.55 172.19L654.05 172.28L654.55 172.36L655.05 172.38L655.55 172.31L656.05 172.11L656.55 171.84L657.05 171.57L657.55 171.41L658.05 171.41L658.55 171.47L659.05 171.53L659.55 171.59L660.05 171.62L660.55 171.62L661.05 171.56L661.55 171.47L662.05 171.41L662.55 171.41L663.05 171.43L663.55 171.41L664.05 171.36L664.55 171.30L665.05 171.21L665.55 171.05L666.05 170.79L666.55 170.46L667.05 170.17L667.55 169.94L668.05 169.76L668.55 169.69L669.05 169.75L669.55 169.90L670.05 170.05L670.55 170.15L671.05 170.16L671.55 170.07L672.05 169.90L672.55 169.65L673.05 169.35L673.55 169.08L674.05 168.94L674.55 168.93L675.05 169.02L675.55 169.19L676.05 169.38L676.55 169.50L677.05 169.47L677.55 169.27L678.05 168.95L678.55 168.59L679.05 168.28L679.55 168.09L680.05 168.02L680.55 168.05L681.05 168.09L681.55 168.06L682.05 167.98L682.55 167.89L683.05 167.83"/>
<path d="M428.05 194.40L428.55 194.49L429.05 194.64L429.55 194.79L430.05 194.91L430.55 195.01L431.05 195.09L431.55 195.17L432.05 195.28L432.55 195.40L433.05 195.50L433.55 195.51L434.05 195.41L434.55 195.20L435.05 194.96L435.55 194.79L436.05 194.78L436.55 194.90L437.05 195.08L437.55 195.27L438.05 195.40L438.55 195.46L439.05 195.42L439.55 195.34L440.05 195.25L440.55 195.19L441.05 195.19L441.55 195.23L442.05 195.27L442.55 195.30L443.05 195.35L443.55 195.38L444.05 195.37L444.55 195.31L445.05 195.24L445.55 195.18L446.05 195.12L446.55 195.09L447.05 195.04L447.55 194.99L448.05 194.95L448.55 194.94L449.05 194.97L449.55 195.04L450.05 195.14L450.55 195.25L451.05 195.37L451.55 195.50L452.05 195.64L452.55 195.77L453.05 195.87L453.55 195.90L454.05 195.86L454.55 195.77L455.05 195.64L455.55 195.49L456.05 195.31L456.55 195.12L457.05 194.89L457.55 194.64L458.05 194.39L458.55 194.18L459.05 194.07L459.55 194.10L460.05 194.20L460.55 194.31L461.05 194.40L461.55 194.48L462.05 194.55L462.55 194.58L463.05 194.61L463.55 194.65L464.05 194.68L464.55 194.69L465.05 194.67L465.55 194.58L466.05 194.45L466.55 194.26L467.05 194.05L467.55 193.85L468.05 193.72L468.55 193.68L469.05 193.74L469.55 193.82L470.05 193.93L470.55 194.05L471.05 194.17L471.55 194.28L472.05 194.41L472.55 194.57L473.05 194.70L473.55 194.74L474.05 194.70L474.55 194.60L475.05 194.46L475.55 194.34L476.05 194.22L476.55 194.04L477.05 193.84L477.55 193.63L478.05 193.44L478.55 193.31L479.05 193.27L479.55 193.33L480.05 193.46L480.55 193.58L481.05 193.60L481.55 193.56L482.05 193.52L482.55 193.54L483.05 193.61L483.55 193.72L484.05 193.84L484.55 193.96L485.05 194.04L485.55 194.02L486.05 193.89L486.55 193.68L487.05 193.41L487.55 193.10L488.05 192.72L488.55 192.28L489.05 191.86L489.55 191.49L490.05 191.16L490.55 190.85L491.05 190.56L491.55 190.29L492.05 190.00L492.55 189.67L493.05 189.26L493.55 188.73L494.05 188.06L494.55 187.26L495.05 186.32L495.55 185.22L496.05 184.00L496.55 182.70L497.05 181.33L497.55 179.87L498.05 178.33L498.55 176.67L499.05 174.84L499.55 172.80L500.05 170.55L500.55 168.09L501.05 165.47L501.55 162.73L502.05 159.91L502.55 156.99L503.05 153.95L503.55 150.80L504.05 147.58L504.55 144.35L505.05 141.18L505.55 138.16L506.05 135.36L506.55 132.81L507.05 130.59L507.55 128.74L508.05 127.27L508.55 126.21L509.05 125.59L509.55 125.44L510.05 125.74L510.55 126.49L511.05 127.67L511.55 129.24L512.05 131.14L512.55 133.30L513.05 135.69L513.55 138.25L514.05 140.97L514.55 143.82L515.05 146.86L515.55 150.03L516.05 153.20L516.55 156.25L517.05 159.12L517.55 161.81L518.05 164.33L518.55 166.70L519.05 168.99L519.55 171.23L520.05 173.44L520.55 175.59L521.05 177.59L521.55 179.36L522.05 180.90L522.55 182.21L523.05 183.30L523.55 184.18L524.05 184.91L524.55 185.51L525.05 185.97L525.55 186.32L526.05 186.66L526.55 187.03L527.05 187.41L527.55 187.79L528.05 188.16L528.55 188.45L529.05 188.62L529.55 188.62L530.05 188.46L530.55 188.20L531.05 187.95L531.55 187.79L532.05 187.76L532.55 187.89L533.05 188.16L533.55 188.54L534.05 188.92L534.55 189.24L535.05 189.50L535.55 189.68L536.05 189.76L536.55 189.77L537.05 189.73L537.55 189.68L538.05 189.62L538.55 189.57L539.05 189.49L539.55 189.42L540.05 189.37L540.55 189.33L541.05 189.28L541.55 189.21L542.05 189.14L542.55 189.05L543.05 188.94L543.55 188.84L544.05 188.78L544.55 188.79L545.05 188.90L545.55 189.06L546.05 189.24L546.55 189.42L547.05 189.58L547.55 189.66L548.05 189.69L548.55 189.70L549.05 189.72L549.55 189.72L550.05 189.71L550.55 189.66L551.05 189.60L551.55 189.56L552.05 189.51L552.55 189.44L553.05 189.32L553.55 189.18L554.05 189.03L554.55 188.86L555.05 188.66L555.55 188.45L556.05 188.27L556.55 188.16L557.05 188.14L557.55 188.19L558.05 188.28L558.55 188.39L559.05 188.52L559.55 188.60L560.05 188.58L560.55 188.49L561.05 188.34L561.55 188.16L562.05 187.94L562.55 187.72L563.05 187.51L563.55 187.32L564.05 187.14L564.55 186.99L565.05 186.82L565.55 186.61L566.05 186.36L566.55 186.05L567.05 185.70L567.55 185.36L568.05 185.07L568.55 184.84L569.05 184.68L569.55 184.60L570.05 184.55L570.55 184.42L571.05 184.12L571.55 183.70L572.05 183.20L572.55 182.67L573.05 182.18L573.55 181.77L574.05 181.43L574.55 181.14L575.05 180.87L575.55 180.60L576.05 180.30L576.55 179.99L577.05 179.69L577.55 179.35L578.05 178.96L578.55 178.54L579.05 178.08L579.55 177.55L580.05 177.00L580.55 176.46L581.05 175.95L581.55 175.46L582.05 175.00L582.55 174.60L583.05 174.30L583.55 174.13L584.05 174.08L584.55 174.10L585.05 174.17L585.55 174.29L586.05 174.44L586.55 174.59L587.05 174.71L587.55 174.77L588.05 174.77L588.55 174.73L589.05 174.66L589.55 174.61L590.05 174.61L590.55 174.72L591.05 174.93L591.55 175.20L592.05 175.55L592.55 175.95L593.05 176.41L593.55 176.92L594.05 177.46L594.55 177.99L595.05 178.54L595.55 179.10L596.05 179.66L596.55 180.23L597.05 180.81L597.55 181.40L598.05 181.97L598.55 182.49L599.05 182.92L599.55 183.30L600.05 183.70L600.55 184.12L601.05 184.49L601.55 184.80L602.05 185.05L602.55 185.31L603.05 185.62L603.55 186.00L604.05 186.43L604.55 186.92L605.05 187.40L605.55 187.83L606.05 188.17L606.55 188.40L607.05 188.57L607.55 188.69L608.05 188.81L608.55 188.92L609.05 189.04L609.55 189.21L610.05 189.42L610.55 189.69L611.05 190.01L611.55 190.34L612.05 190.62L612.55 190.80L613.05 190.88L613.55 190.89L614.05 190.87L614.55 190.83L615.05 190.78L615.55 190.75L616.05 190.79L616.55 190.92L617.05 191.13L617.55 191.39L618.05 191.68L618.55 192.01L619.05 192.32L619.55 192.55L620.05 192.64L620.55 192.57L621.05 192.37L621.55 192.09L622.05 191.78L622.55 191.48L623.05 191.25L623.55 191.21L624.05 191.33L624.55 191.52L625.05 191.69L625.55 191.78L626.05 191.72L626.55 191.56L627.05 191.38L627.55 191.26L628.05 191.26L628.55 191.41L629.05 191.66L629.55 191.89L630.05 192.05L630.55 192.16L631.05 192.20L631.55 192.21L632.05 192.21L632.55 192.17L633.05 192.07L633.55 191.89L634.05 191.67L634.55 191.43L635.05 191.21L635.55 191.08L636.05 191.05L636.55 191.13L637.05 191.30L637.55 191.49L638.05 191.67L638.55 191.82L639.05 191.93L639.55 191.95L640.05 191.85L640.55 191.66L641.05 191.48L641.55 191.38L642.05 191.32L642.55 191.28L643.05 191.29L643.55 191.32L644.05 191.34L644.55 191.30L645.05 191.21L645.55 191.14L646.05 191.15L646.55 191.24L647.05 191.33L647.55 191.38L648.05 191.40L648.55 191.38L649.05 191.30L649.55 191.12L650.05 190.92L650.55 190.75L651.05 190.67L651.55 190.65L652.05 190.65L652.55 190.67L653.05 190.70L653.55 190.70L654.05 190.62L654.55 190.45L655.05 190.27L655.55 190.17L656.05 190.16L656.55 190.25L657.05 190.41L657.55 190.55L658.05 190.59L658.55 190.49L659.05 190.24L659.55 189.88L660.05 189.53L660.55 189.30L661.05 189.25L661.55 189.35L662.05 189.56L662.55 189.76L663.05 189.84L663.55 189.76L664.05 189.53L664.55 189.16L665.05 188.80L665.55 188.56L666.05 188.51L666.55 188.59L667.05 188.72L667.55 188.79L668.05 188.79L668.55 188.73L669.05 188.63L669.55 188.55L670.05 188.54L670.55 188.60L671.05 188.71L671.55 188.82L672.05 188.87L672.55 188.84L673.05 188.80L673.55 188.75L674.05 188.67L674.55 188.55L675.05 188.41L675.55 188.28L676.05 188.17L676.55 188.07L677.05 187.97L677.55 187.88L678.05 187.81L678.55 187.76L679.05 187.68L679.55 187.59L680.05 187.54L680.55 187.56L681.05 187.59L681.55 187.59L682.05 187.59L682.55 187.59L683.05 187.60"/>
</g>
<rect x="82.0" y="13.0" width="254.95" height="191.15" fill="none" stroke="#424242" stroke-width="1.5"/>
<rect x="428.05" y="12.7" width="255.00" height="190.90" fill="none" stroke="#424242" stroke-width="1.5"/>
<path d="M82.00 204.15v-4.6M124.49 204.15v-4.6M166.98 204.15v-4.6M209.47 204.15v-4.6M251.97 204.15v-4.6M294.46 204.15v-4.6M336.95 204.15v-4.6M103.25 204.15v-2.5M145.74 204.15v-2.5M188.23 204.15v-2.5M230.72 204.15v-2.5M273.21 204.15v-2.5M315.70 204.15v-2.5M82.0 204.15h4.6M82.0 180.26h2.5M82.0 156.36h4.6M82.0 132.47h2.5M82.0 108.58h4.6M82.0 84.68h2.5M82.0 60.79h4.6M82.0 36.89h2.5M82.0 13.00h4.6" fill="none" stroke="#424242" stroke-width="1.5"/>
<path d="M468.31 203.6v-4.6M522.00 203.6v-4.6M575.68 203.6v-4.6M629.37 203.6v-4.6M683.05 203.6v-4.6M441.47 203.6v-2.5M495.16 203.6v-2.5M548.84 203.6v-2.5M602.52 203.6v-2.5M656.21 203.6v-2.5M428.05 203.60h4.6M428.05 179.74h2.5M428.05 155.88h4.6M428.05 132.01h2.5M428.05 108.15h4.6M428.05 84.29h2.5M428.05 60.42h4.6M428.05 36.56h2.5M428.05 12.70h4.6" fill="none" stroke="#424242" stroke-width="1.5"/>
<text x="71.3" y="19.8" font-size="17.3" text-anchor="end" textLength="54.6" lengthAdjust="spacingAndGlyphs">1.2x10</text>
<text x="71.7" y="9.5" font-size="9.5" textLength="5.8" lengthAdjust="spacingAndGlyphs">5</text>
<text x="68.9" y="67.6" font-size="17.3" text-anchor="end" textLength="37.5" lengthAdjust="spacingAndGlyphs">9x10</text>
<text x="71.0" y="58.0" font-size="9.5" textLength="5.8" lengthAdjust="spacingAndGlyphs">4</text>
<text x="68.9" y="115.4" font-size="17.3" text-anchor="end" textLength="37.5" lengthAdjust="spacingAndGlyphs">6x10</text>
<text x="71.0" y="105.8" font-size="9.5" textLength="5.8" lengthAdjust="spacingAndGlyphs">4</text>
<text x="68.9" y="163.2" font-size="17.3" text-anchor="end" textLength="37.5" lengthAdjust="spacingAndGlyphs">3x10</text>
<text x="71.0" y="153.6" font-size="9.5" textLength="5.8" lengthAdjust="spacingAndGlyphs">4</text>
<text x="77.1" y="206.8" font-size="17.3" text-anchor="end">0</text>
<text x="419.2" y="19.5" font-size="17.3" text-anchor="end" textLength="38.7" lengthAdjust="spacingAndGlyphs">4x10</text>
<text x="419.6" y="9.9" font-size="9.5" textLength="5.8" lengthAdjust="spacingAndGlyphs">4</text>
<text x="419.2" y="67.2" font-size="17.3" text-anchor="end" textLength="38.7" lengthAdjust="spacingAndGlyphs">3x10</text>
<text x="419.6" y="57.6" font-size="9.5" textLength="5.8" lengthAdjust="spacingAndGlyphs">4</text>
<text x="419.2" y="115.0" font-size="17.3" text-anchor="end" textLength="38.7" lengthAdjust="spacingAndGlyphs">2x10</text>
<text x="419.6" y="105.4" font-size="9.5" textLength="5.8" lengthAdjust="spacingAndGlyphs">4</text>
<text x="419.2" y="162.7" font-size="17.3" text-anchor="end" textLength="38.7" lengthAdjust="spacingAndGlyphs">1x10</text>
<text x="419.6" y="153.1" font-size="9.5" textLength="5.8" lengthAdjust="spacingAndGlyphs">4</text>
<text x="424.8" y="206.8" font-size="17.3" text-anchor="end">0</text>
<text x="84.2" y="222.9" font-size="17.3" text-anchor="middle">12</text>
<text x="125.4" y="222.9" font-size="17.3" text-anchor="middle">14</text>
<text x="167.9" y="222.9" font-size="17.3" text-anchor="middle">16</text>
<text x="210.4" y="222.9" font-size="17.3" text-anchor="middle">18</text>
<text x="252.1" y="222.9" font-size="17.3" text-anchor="middle">20</text>
<text x="294.6" y="222.9" font-size="17.3" text-anchor="middle">22</text>
<text x="337.6" y="222.9" font-size="17.3" text-anchor="middle">24</text>
<text x="468.1" y="222.9" font-size="17.3" text-anchor="middle" textLength="30" lengthAdjust="spacingAndGlyphs">456</text>
<text x="521.8" y="222.9" font-size="17.3" text-anchor="middle" textLength="30" lengthAdjust="spacingAndGlyphs">460</text>
<text x="575.5" y="222.9" font-size="17.3" text-anchor="middle" textLength="30" lengthAdjust="spacingAndGlyphs">464</text>
<text x="629.2" y="222.9" font-size="17.3" text-anchor="middle" textLength="30" lengthAdjust="spacingAndGlyphs">468</text>
<text x="682.8" y="222.9" font-size="17.3" text-anchor="middle" textLength="30" lengthAdjust="spacingAndGlyphs">472</text>
<text x="129.3" y="240.0" font-size="17.5" text-anchor="start" textLength="161.6" lengthAdjust="spacingAndGlyphs">Binding Energy (eV)</text>
<text x="474.6" y="242.7" font-size="17.5" text-anchor="start" textLength="162.2" lengthAdjust="spacingAndGlyphs">Binding Energy (eV)</text>
<text transform="translate(18.5,151.3) rotate(-90)" font-size="16.6" textLength="114.5" lengthAdjust="spacingAndGlyphs">Intensity (a.u.)</text>
<text transform="translate(369.3,158.0) rotate(-90)" font-size="16.6" textLength="114.5" lengthAdjust="spacingAndGlyphs">Intensity (a.u.)</text>
<text x="87.6" y="30.0" font-size="17.5" text-anchor="start" textLength="22.5" lengthAdjust="spacingAndGlyphs">(a)</text>
<text x="128.6" y="30.4" font-size="17.5" textLength="48.8" lengthAdjust="spacingAndGlyphs">Hf4f<tspan font-size="10" dy="7.6">7/2</tspan></text>
<text x="208.1" y="40.0" font-size="17.5" textLength="48.0" lengthAdjust="spacingAndGlyphs">Hf4f<tspan font-size="10" dy="7.6">5/2</tspan></text>
<text x="292.6" y="31.5" font-size="17.5" text-anchor="start" textLength="33" lengthAdjust="spacingAndGlyphs">Hf4f</text>
<text x="429.6" y="30.5" font-size="17.5" text-anchor="start" textLength="22.5" lengthAdjust="spacingAndGlyphs">(b)</text>
<text x="498.9" y="28.8" font-size="17.5" textLength="49.6" lengthAdjust="spacingAndGlyphs">Ti2p<tspan font-size="10" dy="7.6">3/2</tspan></text>
<text x="568.8" y="82.0" font-size="17.5" textLength="50" lengthAdjust="spacingAndGlyphs">Ti2p<tspan font-size="10" dy="7.8">1/2</tspan></text>
<text x="643.4" y="31.6" font-size="17.5" text-anchor="start" textLength="34.6" lengthAdjust="spacingAndGlyphs">Ti2p</text>
<text x="285.7" y="119.6" font-size="17.5" text-anchor="start" textLength="22.5" lengthAdjust="spacingAndGlyphs">S5</text>
<text x="285.7" y="137.6" font-size="17.5" text-anchor="start" textLength="22.5" lengthAdjust="spacingAndGlyphs">S4</text>
<text x="285.7" y="155.0" font-size="17.5" text-anchor="start" textLength="22.5" lengthAdjust="spacingAndGlyphs">S3</text>
<text x="285.7" y="170.6" font-size="17.5" text-anchor="start" textLength="22.5" lengthAdjust="spacingAndGlyphs">S2</text>
<text x="285.7" y="186.7" font-size="17.5" text-anchor="start" textLength="22.5" lengthAdjust="spacingAndGlyphs">S1</text>
<text x="638.0" y="108.3" font-size="17.5" text-anchor="start" textLength="21.6" lengthAdjust="spacingAndGlyphs">S5</text>
<text x="638.6" y="131.1" font-size="17.5" text-anchor="start" textLength="21.6" lengthAdjust="spacingAndGlyphs">S4</text>
<text x="639.0" y="151.8" font-size="17.5" text-anchor="start" textLength="21.6" lengthAdjust="spacingAndGlyphs">S3</text>
<text x="639.3" y="171.5" font-size="17.5" text-anchor="start" textLength="21.6" lengthAdjust="spacingAndGlyphs">S2</text>
<text x="639.3" y="189.8" font-size="17.5" text-anchor="start" textLength="21.6" lengthAdjust="spacingAndGlyphs">S1</text>
</svg>
</body></html>
